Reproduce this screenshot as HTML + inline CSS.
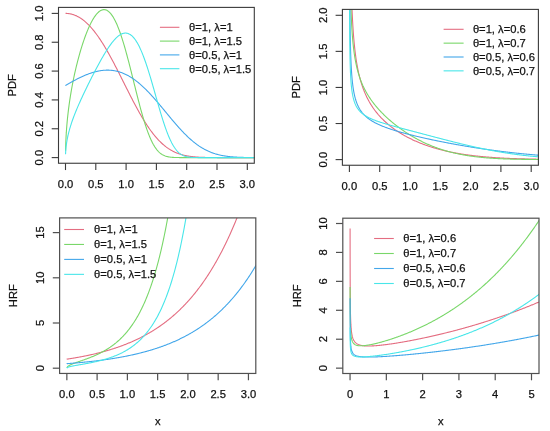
<!DOCTYPE html>
<html><head><meta charset="utf-8"><title>Chen distribution PDF and HRF</title>
<style>
html,body{margin:0;padding:0;background:#fff;}
body{width:550px;height:431px;overflow:hidden;}
svg{display:block;}
text{font-family:"Liberation Sans", "DejaVu Sans", sans-serif;font-size:11.2px;fill:#111;stroke:#111;stroke-width:0.25;}
</style></head><body>
<svg width="550" height="431" viewBox="0 0 550 431">
<rect width="550" height="431" fill="#fff"/>
<clipPath id="c0"><rect x="58.5" y="7.4" width="195.8" height="155.85"/></clipPath>
<g clip-path="url(#c0)" fill="none" stroke-width="1.1" stroke-linejoin="round">
<polyline stroke="#E46D81" points="65.56,13.4 65.57,13.4 65.58,13.4 65.59,13.4 65.6,13.4 65.61,13.4 65.62,13.4 65.63,13.4 65.64,13.4 65.65,13.4 65.66,13.4 65.67,13.4 65.68,13.4 65.69,13.4 65.7,13.4 65.71,13.4 65.72,13.4 65.73,13.4 65.74,13.4 65.75,13.4 65.76,13.4 65.77,13.4 65.78,13.4 65.79,13.4 65.8,13.4 65.81,13.4 65.82,13.4 65.83,13.4 65.84,13.4 65.85,13.4 65.86,13.4 65.88,13.4 65.89,13.4 65.9,13.4 65.91,13.4 65.92,13.4 65.94,13.4 65.95,13.4 65.97,13.4 65.98,13.4 66,13.4 66.01,13.41 66.03,13.41 66.04,13.41 66.06,13.41 66.08,13.41 66.1,13.41 66.12,13.41 66.13,13.41 66.15,13.41 66.18,13.41 66.2,13.41 66.22,13.41 66.24,13.41 66.26,13.41 66.29,13.41 66.31,13.41 66.34,13.41 66.36,13.41 66.39,13.42 66.42,13.42 66.45,13.42 66.48,13.42 66.51,13.42 66.54,13.42 66.57,13.42 66.61,13.42 66.64,13.43 66.68,13.43 66.71,13.43 66.75,13.43 66.79,13.43 66.83,13.44 66.87,13.44 66.92,13.44 66.96,13.44 67.01,13.45 67.06,13.45 67.1,13.45 67.15,13.45 67.21,13.46 67.26,13.46 67.32,13.47 67.37,13.47 67.43,13.47 67.49,13.48 67.55,13.48 67.62,13.49 67.69,13.49 67.75,13.5 67.82,13.51 67.9,13.51 67.97,13.52 68.05,13.53 68.13,13.54 68.21,13.55 68.3,13.56 68.39,13.57 68.48,13.58 68.57,13.59 68.67,13.6 68.77,13.61 68.87,13.63 68.97,13.64 69.08,13.66 69.2,13.67 69.31,13.69 69.43,13.71 69.55,13.73 69.68,13.75 69.81,13.77 69.95,13.8 70.09,13.82 70.23,13.85 70.38,13.88 70.53,13.91 70.69,13.94 70.86,13.98 71.02,14.02 71.2,14.06 71.38,14.1 71.56,14.14 72.1,14.28 72.64,14.44 73.19,14.61 73.73,14.78 74.27,14.98 74.81,15.18 75.35,15.4 75.89,15.63 76.44,15.87 76.98,16.13 77.52,16.4 78.06,16.69 78.6,16.98 79.14,17.29 79.69,17.62 80.23,17.95 80.77,18.3 81.31,18.67 81.85,19.04 82.4,19.43 82.94,19.84 83.48,20.25 84.02,20.69 84.56,21.13 85.1,21.59 85.65,22.06 86.19,22.54 86.73,23.04 87.27,23.55 87.81,24.08 88.35,24.62 88.9,25.17 89.44,25.73 89.98,26.31 90.52,26.9 91.06,27.5 91.6,28.12 92.15,28.75 92.69,29.39 93.23,30.05 93.77,30.72 94.31,31.4 94.86,32.09 95.4,32.79 95.94,33.51 96.48,34.24 97.02,34.98 97.56,35.74 98.11,36.5 98.65,37.28 99.19,38.07 99.73,38.87 100.27,39.68 100.81,40.5 101.36,41.34 101.9,42.18 102.44,43.04 102.98,43.9 103.52,44.78 104.07,45.66 104.61,46.56 105.15,47.46 105.69,48.38 106.23,49.3 106.77,50.23 107.32,51.17 107.86,52.12 108.4,53.08 108.94,54.05 109.48,55.02 110.02,56 110.57,56.99 111.11,57.99 111.65,58.99 112.19,60 112.73,61.02 113.28,62.04 113.82,63.07 114.36,64.1 114.9,65.14 115.44,66.18 115.98,67.23 116.53,68.28 117.07,69.34 117.61,70.4 118.15,71.46 118.69,72.53 119.23,73.6 119.78,74.68 120.32,75.75 120.86,76.83 121.4,77.91 121.94,78.99 122.48,80.07 123.03,81.15 123.57,82.23 124.11,83.32 124.65,84.4 125.19,85.48 125.74,86.56 126.28,87.64 126.82,88.72 127.36,89.8 127.9,90.87 128.44,91.95 128.99,93.02 129.53,94.08 130.07,95.15 130.61,96.21 131.15,97.26 131.69,98.32 132.24,99.36 132.78,100.41 133.32,101.44 133.86,102.48 134.4,103.5 134.95,104.53 135.49,105.54 136.03,106.55 136.57,107.55 137.11,108.54 137.65,109.53 138.2,110.51 138.74,111.48 139.28,112.45 139.82,113.4 140.36,114.35 140.9,115.29 141.45,116.22 141.99,117.14 142.53,118.05 143.07,118.96 143.61,119.85 144.15,120.73 144.7,121.6 145.24,122.46 145.78,123.32 146.32,124.16 146.86,124.99 147.41,125.81 147.95,126.61 148.49,127.41 149.03,128.2 149.57,128.97 150.11,129.74 150.66,130.49 151.2,131.23 151.74,131.95 152.28,132.67 152.82,133.38 153.36,134.07 153.91,134.75 154.45,135.42 154.99,136.07 155.53,136.72 156.07,137.35 156.62,137.97 157.16,138.58 157.7,139.17 158.24,139.76 158.78,140.33 159.32,140.89 159.87,141.43 160.41,141.97 160.95,142.49 161.49,143 162.03,143.5 162.57,143.99 163.12,144.47 163.66,144.93 164.2,145.39 164.74,145.83 165.28,146.26 165.83,146.68 166.37,147.09 166.91,147.48 167.45,147.87 167.99,148.24 168.53,148.61 169.08,148.96 169.62,149.31 170.16,149.64 170.7,149.97 171.24,150.28 171.78,150.58 172.33,150.88 172.87,151.16 173.41,151.44 173.95,151.71 174.49,151.97 175.03,152.22 175.58,152.46 176.12,152.69 176.66,152.91 177.2,153.13 177.74,153.34 178.29,153.54 178.83,153.73 179.37,153.92 179.91,154.1 180.45,154.27 180.99,154.44 181.54,154.59 182.08,154.75 182.62,154.89 183.16,155.03 183.7,155.17 184.24,155.3 184.79,155.42 185.33,155.54 185.87,155.65 186.41,155.76 186.95,155.86 187.5,155.96 188.04,156.05 188.58,156.14 189.12,156.22 189.66,156.3 190.2,156.38 190.75,156.45 191.29,156.52 191.83,156.59 192.37,156.65 192.91,156.71 193.45,156.76 194,156.82 194.54,156.87 195.08,156.91 195.62,156.96 196.16,157 196.71,157.04 197.25,157.08 197.79,157.11 198.33,157.15 198.87,157.18 199.41,157.21 199.96,157.23 200.5,157.26 201.04,157.28 201.58,157.31 202.12,157.33 202.66,157.35 203.21,157.37 203.75,157.38 204.29,157.4 204.83,157.42 205.37,157.43 205.91,157.44 206.46,157.46 207,157.47 207.54,157.48 208.08,157.49 208.62,157.5 209.17,157.51 209.71,157.51 210.25,157.52 210.79,157.53 211.33,157.53 211.87,157.54 212.42,157.54 212.96,157.55 213.5,157.55 214.04,157.56 214.58,157.56 215.12,157.57 215.67,157.57 216.21,157.57 216.75,157.57 217.29,157.58 217.83,157.58 218.38,157.58 218.92,157.58 219.46,157.58 220,157.59 220.54,157.59 221.08,157.59 221.63,157.59 222.17,157.59 222.71,157.59 223.25,157.59 223.79,157.59 224.33,157.59 224.88,157.59 225.42,157.6 225.96,157.6 226.5,157.6 227.04,157.6 227.59,157.6 228.13,157.6 228.67,157.6 229.21,157.6 229.75,157.6 230.29,157.6 230.84,157.6 231.38,157.6 231.92,157.6 232.46,157.6 233,157.6 233.54,157.6 234.09,157.6 234.63,157.6 235.17,157.6 235.71,157.6 236.25,157.6 236.79,157.6 237.34,157.6 237.88,157.6 238.42,157.6 238.96,157.6 239.5,157.6 240.05,157.6 240.59,157.6 241.13,157.6 241.67,157.6 242.21,157.6 242.75,157.6 243.3,157.6 243.84,157.6 244.38,157.6 244.92,157.6 245.46,157.6 246,157.6 246.55,157.6 247.09,157.6 247.63,157.6 248.17,157.6 248.71,157.6 249.26,157.6 249.8,157.6 250.34,157.6 250.88,157.6 251.42,157.6 251.96,157.6 252.51,157.6 253.05,157.6 253.59,157.6 254.13,157.6 254.67,157.6 255.21,157.6 255.76,157.6 256.3,157.6 256.84,157.6 257.38,157.6 257.92,157.6 258.46,157.6 259.01,157.6 259.55,157.6 260.09,157.6 260.63,157.6"/>
<polyline stroke="#79D769" points="65.56,150.76 65.56,150.65 65.56,150.55 65.57,150.44 65.57,150.32 65.57,150.21 65.57,150.1 65.58,149.98 65.58,149.86 65.58,149.74 65.58,149.62 65.59,149.49 65.59,149.37 65.59,149.24 65.59,149.11 65.6,148.98 65.6,148.84 65.6,148.7 65.61,148.57 65.61,148.43 65.61,148.28 65.62,148.14 65.62,147.99 65.62,147.84 65.63,147.69 65.63,147.53 65.64,147.38 65.64,147.22 65.64,147.06 65.65,146.89 65.65,146.73 65.66,146.56 65.66,146.38 65.67,146.21 65.67,146.03 65.68,145.85 65.68,145.67 65.69,145.48 65.7,145.29 65.7,145.1 65.71,144.91 65.72,144.71 65.72,144.51 65.73,144.31 65.74,144.1 65.74,143.89 65.75,143.68 65.76,143.46 65.77,143.24 65.78,143.01 65.78,142.79 65.79,142.56 65.8,142.32 65.81,142.08 65.82,141.84 65.83,141.6 65.84,141.35 65.85,141.1 65.86,140.84 65.88,140.58 65.89,140.31 65.9,140.04 65.91,139.77 65.92,139.49 65.94,139.21 65.95,138.92 65.97,138.63 65.98,138.34 66,138.04 66.01,137.73 66.03,137.42 66.04,137.11 66.06,136.79 66.08,136.47 66.1,136.14 66.12,135.8 66.13,135.46 66.15,135.12 66.18,134.77 66.2,134.41 66.22,134.05 66.24,133.68 66.26,133.31 66.29,132.93 66.31,132.55 66.34,132.16 66.36,131.76 66.39,131.36 66.42,130.95 66.45,130.54 66.48,130.12 66.51,129.69 66.54,129.25 66.57,128.81 66.61,128.36 66.64,127.91 66.68,127.45 66.71,126.98 66.75,126.5 66.79,126.01 66.83,125.52 66.87,125.02 66.92,124.52 66.96,124 67.01,123.48 67.06,122.95 67.1,122.41 67.15,121.86 67.21,121.3 67.26,120.74 67.32,120.16 67.37,119.58 67.43,118.99 67.49,118.39 67.55,117.78 67.62,117.16 67.69,116.53 67.75,115.89 67.82,115.24 67.9,114.58 67.97,113.91 68.05,113.23 68.13,112.54 68.21,111.83 68.3,111.12 68.39,110.4 68.48,109.66 68.57,108.92 68.67,108.16 68.77,107.39 68.87,106.61 68.97,105.81 69.08,105.01 69.2,104.19 69.31,103.36 69.43,102.51 69.55,101.66 69.68,100.79 69.81,99.9 69.95,99.01 70.09,98.09 70.23,97.17 70.38,96.23 70.53,95.27 70.69,94.31 70.86,93.32 71.02,92.32 71.2,91.31 71.38,90.28 71.56,89.23 72.1,86.25 72.64,83.4 73.19,80.65 73.73,78 74.27,75.45 74.81,72.97 75.35,70.58 75.89,68.25 76.44,65.99 76.98,63.79 77.52,61.66 78.06,59.57 78.6,57.55 79.14,55.57 79.69,53.64 80.23,51.76 80.77,49.93 81.31,48.14 81.85,46.39 82.4,44.68 82.94,43.02 83.48,41.4 84.02,39.82 84.56,38.28 85.1,36.77 85.65,35.31 86.19,33.88 86.73,32.5 87.27,31.15 87.81,29.84 88.35,28.57 88.9,27.33 89.44,26.14 89.98,24.98 90.52,23.87 91.06,22.79 91.6,21.75 92.15,20.75 92.69,19.79 93.23,18.87 93.77,17.99 94.31,17.16 94.86,16.36 95.4,15.61 95.94,14.9 96.48,14.23 97.02,13.6 97.56,13.02 98.11,12.48 98.65,11.99 99.19,11.54 99.73,11.14 100.27,10.79 100.81,10.48 101.36,10.22 101.9,10 102.44,9.84 102.98,9.72 103.52,9.66 104.07,9.64 104.61,9.67 105.15,9.76 105.69,9.89 106.23,10.07 106.77,10.31 107.32,10.6 107.86,10.94 108.4,11.34 108.94,11.78 109.48,12.28 110.02,12.83 110.57,13.44 111.11,14.1 111.65,14.81 112.19,15.58 112.73,16.39 113.28,17.27 113.82,18.19 114.36,19.17 114.9,20.2 115.44,21.28 115.98,22.41 116.53,23.6 117.07,24.83 117.61,26.12 118.15,27.45 118.69,28.84 119.23,30.27 119.78,31.75 120.32,33.28 120.86,34.85 121.4,36.46 121.94,38.12 122.48,39.82 123.03,41.56 123.57,43.34 124.11,45.16 124.65,47.01 125.19,48.9 125.74,50.82 126.28,52.78 126.82,54.76 127.36,56.77 127.9,58.81 128.44,60.87 128.99,62.95 129.53,65.05 130.07,67.17 130.61,69.31 131.15,71.46 131.69,73.62 132.24,75.79 132.78,77.97 133.32,80.15 133.86,82.33 134.4,84.51 134.95,86.69 135.49,88.86 136.03,91.03 136.57,93.18 137.11,95.33 137.65,97.46 138.2,99.57 138.74,101.66 139.28,103.73 139.82,105.78 140.36,107.8 140.9,109.79 141.45,111.76 141.99,113.69 142.53,115.59 143.07,117.45 143.61,119.27 144.15,121.06 144.7,122.8 145.24,124.5 145.78,126.16 146.32,127.78 146.86,129.35 147.41,130.87 147.95,132.35 148.49,133.78 149.03,135.16 149.57,136.49 150.11,137.77 150.66,139.01 151.2,140.19 151.74,141.33 152.28,142.41 152.82,143.45 153.36,144.44 153.91,145.38 154.45,146.27 154.99,147.12 155.53,147.92 156.07,148.68 156.62,149.4 157.16,150.07 157.7,150.7 158.24,151.29 158.78,151.84 159.32,152.36 159.87,152.84 160.41,153.29 160.95,153.7 161.49,154.08 162.03,154.43 162.57,154.76 163.12,155.05 163.66,155.33 164.2,155.57 164.74,155.8 165.28,156.01 165.83,156.19 166.37,156.36 166.91,156.51 167.45,156.64 167.99,156.77 168.53,156.87 169.08,156.97 169.62,157.06 170.16,157.13 170.7,157.2 171.24,157.25 171.78,157.31 172.33,157.35 172.87,157.39 173.41,157.42 173.95,157.45 174.49,157.47 175.03,157.5 175.58,157.51 176.12,157.53 176.66,157.54 177.2,157.55 177.74,157.56 178.29,157.57 178.83,157.57 179.37,157.58 179.91,157.58 180.45,157.59 180.99,157.59 181.54,157.59 182.08,157.59 182.62,157.59 183.16,157.6 183.7,157.6 184.24,157.6 184.79,157.6 185.33,157.6 185.87,157.6 186.41,157.6 186.95,157.6 187.5,157.6 188.04,157.6 188.58,157.6 189.12,157.6 189.66,157.6 190.2,157.6 190.75,157.6 191.29,157.6 191.83,157.6 192.37,157.6 192.91,157.6 193.45,157.6 194,157.6 194.54,157.6 195.08,157.6 195.62,157.6 196.16,157.6 196.71,157.6 197.25,157.6 197.79,157.6 198.33,157.6 198.87,157.6 199.41,157.6 199.96,157.6 200.5,157.6 201.04,157.6 201.58,157.6 202.12,157.6 202.66,157.6 203.21,157.6 203.75,157.6 204.29,157.6 204.83,157.6 205.37,157.6 205.91,157.6 206.46,157.6 207,157.6 207.54,157.6 208.08,157.6 208.62,157.6 209.17,157.6 209.71,157.6 210.25,157.6 210.79,157.6 211.33,157.6 211.87,157.6 212.42,157.6 212.96,157.6 213.5,157.6 214.04,157.6 214.58,157.6 215.12,157.6 215.67,157.6 216.21,157.6 216.75,157.6 217.29,157.6 217.83,157.6 218.38,157.6 218.92,157.6 219.46,157.6 220,157.6 220.54,157.6 221.08,157.6 221.63,157.6 222.17,157.6 222.71,157.6 223.25,157.6 223.79,157.6 224.33,157.6 224.88,157.6 225.42,157.6 225.96,157.6 226.5,157.6 227.04,157.6 227.59,157.6 228.13,157.6 228.67,157.6 229.21,157.6 229.75,157.6 230.29,157.6 230.84,157.6 231.38,157.6 231.92,157.6 232.46,157.6 233,157.6 233.54,157.6 234.09,157.6 234.63,157.6 235.17,157.6 235.71,157.6 236.25,157.6 236.79,157.6 237.34,157.6 237.88,157.6 238.42,157.6 238.96,157.6 239.5,157.6 240.05,157.6 240.59,157.6 241.13,157.6 241.67,157.6 242.21,157.6 242.75,157.6 243.3,157.6 243.84,157.6 244.38,157.6 244.92,157.6 245.46,157.6 246,157.6 246.55,157.6 247.09,157.6 247.63,157.6 248.17,157.6 248.71,157.6 249.26,157.6 249.8,157.6 250.34,157.6 250.88,157.6 251.42,157.6 251.96,157.6 252.51,157.6 253.05,157.6 253.59,157.6 254.13,157.6 254.67,157.6 255.21,157.6 255.76,157.6 256.3,157.6 256.84,157.6 257.38,157.6 257.92,157.6 258.46,157.6 259.01,157.6 259.55,157.6 260.09,157.6 260.63,157.6"/>
<polyline stroke="#43A7EA" points="65.56,85.46 65.57,85.46 65.58,85.46 65.58,85.45 65.59,85.45 65.59,85.44 65.6,85.44 65.61,85.44 65.61,85.43 65.62,85.43 65.63,85.42 65.64,85.42 65.64,85.41 65.65,85.41 65.66,85.41 65.66,85.4 65.67,85.4 65.68,85.39 65.69,85.39 65.7,85.38 65.71,85.38 65.72,85.37 65.73,85.36 65.74,85.36 65.75,85.35 65.76,85.35 65.77,85.34 65.78,85.34 65.78,85.33 65.79,85.33 65.8,85.32 65.81,85.31 65.82,85.31 65.83,85.3 65.84,85.3 65.85,85.29 65.86,85.28 65.88,85.28 65.89,85.27 65.9,85.26 65.91,85.26 65.92,85.25 65.94,85.24 65.95,85.23 65.97,85.22 65.98,85.21 66,85.21 66.01,85.2 66.03,85.19 66.04,85.18 66.06,85.17 66.08,85.16 66.1,85.15 66.12,85.13 66.13,85.12 66.15,85.11 66.18,85.1 66.2,85.09 66.22,85.07 66.24,85.06 66.26,85.05 66.29,85.03 66.31,85.02 66.34,85 66.36,84.99 66.39,84.97 66.42,84.95 66.45,84.94 66.48,84.92 66.51,84.9 66.54,84.88 66.57,84.86 66.61,84.84 66.64,84.82 66.68,84.8 66.71,84.78 66.75,84.76 66.79,84.74 66.83,84.71 66.87,84.69 66.92,84.66 66.96,84.64 67.01,84.61 67.06,84.58 67.1,84.55 67.15,84.52 67.21,84.49 67.26,84.46 67.32,84.43 67.37,84.4 67.43,84.36 67.49,84.33 67.55,84.29 67.62,84.25 67.69,84.21 67.75,84.17 67.82,84.13 67.9,84.09 67.97,84.04 68.05,84 68.13,83.95 68.21,83.91 68.3,83.86 68.39,83.8 68.48,83.75 68.57,83.7 68.67,83.64 68.77,83.59 68.87,83.53 68.97,83.47 69.08,83.4 69.2,83.34 69.31,83.27 69.43,83.2 69.55,83.13 69.68,83.06 69.81,82.98 69.95,82.91 70.09,82.83 70.23,82.75 70.38,82.66 70.53,82.58 70.69,82.49 70.86,82.39 71.02,82.3 71.2,82.2 71.38,82.1 71.56,82 72.1,81.7 72.64,81.4 73.19,81.1 73.73,80.81 74.27,80.52 74.81,80.23 75.35,79.94 75.89,79.65 76.44,79.37 76.98,79.09 77.52,78.82 78.06,78.54 78.6,78.27 79.14,78 79.69,77.74 80.23,77.48 80.77,77.22 81.31,76.97 81.85,76.72 82.4,76.47 82.94,76.22 83.48,75.98 84.02,75.75 84.56,75.51 85.1,75.28 85.65,75.06 86.19,74.84 86.73,74.62 87.27,74.41 87.81,74.2 88.35,73.99 88.9,73.79 89.44,73.6 89.98,73.4 90.52,73.22 91.06,73.04 91.6,72.86 92.15,72.69 92.69,72.52 93.23,72.36 93.77,72.2 94.31,72.05 94.86,71.9 95.4,71.76 95.94,71.62 96.48,71.49 97.02,71.37 97.56,71.25 98.11,71.13 98.65,71.02 99.19,70.92 99.73,70.83 100.27,70.73 100.81,70.65 101.36,70.57 101.9,70.5 102.44,70.43 102.98,70.38 103.52,70.32 104.07,70.28 104.61,70.24 105.15,70.2 105.69,70.18 106.23,70.16 106.77,70.14 107.32,70.14 107.86,70.14 108.4,70.15 108.94,70.16 109.48,70.19 110.02,70.21 110.57,70.25 111.11,70.3 111.65,70.35 112.19,70.41 112.73,70.47 113.28,70.55 113.82,70.63 114.36,70.72 114.9,70.81 115.44,70.92 115.98,71.03 116.53,71.15 117.07,71.28 117.61,71.42 118.15,71.56 118.69,71.71 119.23,71.87 119.78,72.04 120.32,72.21 120.86,72.4 121.4,72.59 121.94,72.79 122.48,73 123.03,73.21 123.57,73.44 124.11,73.67 124.65,73.91 125.19,74.16 125.74,74.42 126.28,74.68 126.82,74.95 127.36,75.24 127.9,75.53 128.44,75.82 128.99,76.13 129.53,76.44 130.07,76.77 130.61,77.1 131.15,77.43 131.69,77.78 132.24,78.13 132.78,78.5 133.32,78.87 133.86,79.24 134.4,79.63 134.95,80.02 135.49,80.42 136.03,80.83 136.57,81.25 137.11,81.67 137.65,82.1 138.2,82.54 138.74,82.99 139.28,83.44 139.82,83.9 140.36,84.37 140.9,84.84 141.45,85.33 141.99,85.81 142.53,86.31 143.07,86.81 143.61,87.32 144.15,87.84 144.7,88.36 145.24,88.88 145.78,89.42 146.32,89.96 146.86,90.5 147.41,91.06 147.95,91.61 148.49,92.17 149.03,92.74 149.57,93.32 150.11,93.89 150.66,94.48 151.2,95.07 151.74,95.66 152.28,96.26 152.82,96.86 153.36,97.46 153.91,98.08 154.45,98.69 154.99,99.31 155.53,99.93 156.07,100.55 156.62,101.18 157.16,101.81 157.7,102.45 158.24,103.08 158.78,103.72 159.32,104.37 159.87,105.01 160.41,105.66 160.95,106.31 161.49,106.96 162.03,107.61 162.57,108.26 163.12,108.91 163.66,109.57 164.2,110.22 164.74,110.88 165.28,111.54 165.83,112.19 166.37,112.85 166.91,113.51 167.45,114.16 167.99,114.82 168.53,115.47 169.08,116.13 169.62,116.78 170.16,117.43 170.7,118.08 171.24,118.73 171.78,119.38 172.33,120.02 172.87,120.66 173.41,121.3 173.95,121.94 174.49,122.57 175.03,123.2 175.58,123.83 176.12,124.46 176.66,125.08 177.2,125.7 177.74,126.31 178.29,126.92 178.83,127.52 179.37,128.13 179.91,128.72 180.45,129.31 180.99,129.9 181.54,130.48 182.08,131.06 182.62,131.63 183.16,132.2 183.7,132.76 184.24,133.32 184.79,133.87 185.33,134.41 185.87,134.95 186.41,135.48 186.95,136.01 187.5,136.53 188.04,137.04 188.58,137.55 189.12,138.05 189.66,138.55 190.2,139.03 190.75,139.51 191.29,139.99 191.83,140.45 192.37,140.91 192.91,141.36 193.45,141.81 194,142.25 194.54,142.68 195.08,143.1 195.62,143.52 196.16,143.93 196.71,144.33 197.25,144.73 197.79,145.11 198.33,145.49 198.87,145.87 199.41,146.23 199.96,146.59 200.5,146.94 201.04,147.28 201.58,147.62 202.12,147.95 202.66,148.27 203.21,148.58 203.75,148.89 204.29,149.19 204.83,149.48 205.37,149.77 205.91,150.05 206.46,150.32 207,150.58 207.54,150.84 208.08,151.09 208.62,151.34 209.17,151.57 209.71,151.8 210.25,152.03 210.79,152.25 211.33,152.46 211.87,152.67 212.42,152.87 212.96,153.06 213.5,153.25 214.04,153.43 214.58,153.6 215.12,153.78 215.67,153.94 216.21,154.1 216.75,154.25 217.29,154.4 217.83,154.55 218.38,154.69 218.92,154.82 219.46,154.95 220,155.07 220.54,155.19 221.08,155.31 221.63,155.42 222.17,155.53 222.71,155.63 223.25,155.73 223.79,155.82 224.33,155.91 224.88,156 225.42,156.08 225.96,156.16 226.5,156.24 227.04,156.31 227.59,156.38 228.13,156.45 228.67,156.51 229.21,156.57 229.75,156.63 230.29,156.68 230.84,156.74 231.38,156.79 231.92,156.83 232.46,156.88 233,156.92 233.54,156.96 234.09,157 234.63,157.04 235.17,157.07 235.71,157.11 236.25,157.14 236.79,157.17 237.34,157.2 237.88,157.22 238.42,157.25 238.96,157.27 239.5,157.29 240.05,157.31 240.59,157.33 241.13,157.35 241.67,157.37 242.21,157.39 242.75,157.4 243.3,157.42 243.84,157.43 244.38,157.44 244.92,157.45 245.46,157.46 246,157.47 246.55,157.48 247.09,157.49 247.63,157.5 248.17,157.51 248.71,157.52 249.26,157.52 249.8,157.53 250.34,157.53 250.88,157.54 251.42,157.55 251.96,157.55 252.51,157.55 253.05,157.56 253.59,157.56 254.13,157.56 254.67,157.57 255.21,157.57 255.76,157.57 256.3,157.58 256.84,157.58 257.38,157.58 257.92,157.58 258.46,157.58 259.01,157.59 259.55,157.59 260.09,157.59 260.63,157.59"/>
<polyline stroke="#48E6E9" points="65.56,154.18 65.56,154.13 65.56,154.07 65.57,154.02 65.57,153.96 65.57,153.91 65.57,153.85 65.58,153.79 65.58,153.73 65.58,153.67 65.58,153.61 65.59,153.55 65.59,153.48 65.59,153.42 65.59,153.35 65.6,153.29 65.6,153.22 65.6,153.15 65.61,153.08 65.61,153.01 65.61,152.94 65.62,152.87 65.62,152.79 65.62,152.72 65.63,152.64 65.63,152.57 65.64,152.49 65.64,152.41 65.64,152.33 65.65,152.25 65.65,152.16 65.66,152.08 65.66,151.99 65.67,151.9 65.67,151.82 65.68,151.73 65.68,151.63 65.69,151.54 65.7,151.45 65.7,151.35 65.71,151.25 65.72,151.15 65.72,151.05 65.73,150.95 65.74,150.85 65.74,150.74 65.75,150.64 65.76,150.53 65.77,150.42 65.78,150.31 65.78,150.19 65.79,150.08 65.8,149.96 65.81,149.84 65.82,149.72 65.83,149.6 65.84,149.47 65.85,149.35 65.86,149.22 65.88,149.09 65.89,148.95 65.9,148.82 65.91,148.68 65.92,148.54 65.94,148.4 65.95,148.26 65.97,148.11 65.98,147.97 66,147.81 66.01,147.66 66.03,147.51 66.04,147.35 66.06,147.19 66.08,147.03 66.1,146.86 66.12,146.7 66.13,146.53 66.15,146.35 66.18,146.18 66.2,146 66.22,145.82 66.24,145.63 66.26,145.45 66.29,145.26 66.31,145.07 66.34,144.87 66.36,144.67 66.39,144.47 66.42,144.26 66.45,144.06 66.48,143.84 66.51,143.63 66.54,143.41 66.57,143.19 66.61,142.96 66.64,142.73 66.68,142.5 66.71,142.27 66.75,142.03 66.79,141.78 66.83,141.54 66.87,141.28 66.92,141.03 66.96,140.77 67.01,140.51 67.06,140.24 67.1,139.97 67.15,139.69 67.21,139.41 67.26,139.12 67.32,138.83 67.37,138.54 67.43,138.24 67.49,137.93 67.55,137.63 67.62,137.31 67.69,136.99 67.75,136.67 67.82,136.34 67.9,136 67.97,135.66 68.05,135.32 68.13,134.97 68.21,134.61 68.3,134.24 68.39,133.88 68.48,133.5 68.57,133.12 68.67,132.73 68.77,132.34 68.87,131.94 68.97,131.53 69.08,131.11 69.2,130.69 69.31,130.26 69.43,129.83 69.55,129.38 69.68,128.93 69.81,128.47 69.95,128.01 70.09,127.53 70.23,127.05 70.38,126.56 70.53,126.06 70.69,125.55 70.86,125.03 71.02,124.5 71.2,123.97 71.38,123.42 71.56,122.86 72.1,121.27 72.64,119.72 73.19,118.23 73.73,116.77 74.27,115.35 74.81,113.95 75.35,112.59 75.89,111.25 76.44,109.93 76.98,108.64 77.52,107.36 78.06,106.1 78.6,104.86 79.14,103.63 79.69,102.41 80.23,101.2 80.77,100.01 81.31,98.82 81.85,97.65 82.4,96.48 82.94,95.32 83.48,94.17 84.02,93.03 84.56,91.9 85.1,90.77 85.65,89.64 86.19,88.52 86.73,87.41 87.27,86.3 87.81,85.2 88.35,84.1 88.9,83.01 89.44,81.92 89.98,80.84 90.52,79.76 91.06,78.69 91.6,77.62 92.15,76.55 92.69,75.49 93.23,74.44 93.77,73.39 94.31,72.34 94.86,71.3 95.4,70.27 95.94,69.24 96.48,68.22 97.02,67.2 97.56,66.19 98.11,65.18 98.65,64.18 99.19,63.19 99.73,62.2 100.27,61.23 100.81,60.26 101.36,59.29 101.9,58.34 102.44,57.4 102.98,56.46 103.52,55.54 104.07,54.62 104.61,53.72 105.15,52.82 105.69,51.94 106.23,51.07 106.77,50.22 107.32,49.37 107.86,48.54 108.4,47.73 108.94,46.92 109.48,46.14 110.02,45.37 110.57,44.61 111.11,43.88 111.65,43.16 112.19,42.46 112.73,41.78 113.28,41.12 113.82,40.48 114.36,39.86 114.9,39.26 115.44,38.68 115.98,38.13 116.53,37.61 117.07,37.1 117.61,36.63 118.15,36.18 118.69,35.75 119.23,35.36 119.78,34.99 120.32,34.66 120.86,34.35 121.4,34.07 121.94,33.83 122.48,33.62 123.03,33.44 123.57,33.29 124.11,33.18 124.65,33.11 125.19,33.07 125.74,33.07 126.28,33.11 126.82,33.18 127.36,33.3 127.9,33.45 128.44,33.64 128.99,33.88 129.53,34.15 130.07,34.47 130.61,34.83 131.15,35.23 131.69,35.68 132.24,36.17 132.78,36.7 133.32,37.28 133.86,37.91 134.4,38.57 134.95,39.29 135.49,40.05 136.03,40.85 136.57,41.7 137.11,42.59 137.65,43.53 138.2,44.52 138.74,45.55 139.28,46.62 139.82,47.74 140.36,48.9 140.9,50.11 141.45,51.36 141.99,52.65 142.53,53.98 143.07,55.35 143.61,56.77 144.15,58.22 144.7,59.71 145.24,61.23 145.78,62.79 146.32,64.39 146.86,66.01 147.41,67.67 147.95,69.36 148.49,71.08 149.03,72.82 149.57,74.59 150.11,76.38 150.66,78.2 151.2,80.03 151.74,81.88 152.28,83.75 152.82,85.63 153.36,87.52 153.91,89.42 154.45,91.32 154.99,93.23 155.53,95.14 156.07,97.06 156.62,98.97 157.16,100.87 157.7,102.77 158.24,104.66 158.78,106.54 159.32,108.4 159.87,110.24 160.41,112.07 160.95,113.88 161.49,115.66 162.03,117.42 162.57,119.16 163.12,120.86 163.66,122.53 164.2,124.17 164.74,125.78 165.28,127.34 165.83,128.88 166.37,130.37 166.91,131.82 167.45,133.23 167.99,134.6 168.53,135.93 169.08,137.21 169.62,138.44 170.16,139.64 170.7,140.78 171.24,141.88 171.78,142.93 172.33,143.94 172.87,144.9 173.41,145.82 173.95,146.69 174.49,147.52 175.03,148.3 175.58,149.04 176.12,149.74 176.66,150.4 177.2,151.01 177.74,151.59 178.29,152.13 178.83,152.63 179.37,153.1 179.91,153.53 180.45,153.93 180.99,154.3 181.54,154.64 182.08,154.96 182.62,155.24 183.16,155.5 183.7,155.74 184.24,155.96 184.79,156.15 185.33,156.33 185.87,156.49 186.41,156.63 186.95,156.75 187.5,156.87 188.04,156.97 188.58,157.05 189.12,157.13 189.66,157.2 190.2,157.26 190.75,157.31 191.29,157.36 191.83,157.39 192.37,157.43 192.91,157.46 193.45,157.48 194,157.5 194.54,157.52 195.08,157.53 195.62,157.55 196.16,157.56 196.71,157.56 197.25,157.57 197.79,157.58 198.33,157.58 198.87,157.59 199.41,157.59 199.96,157.59 200.5,157.59 201.04,157.59 201.58,157.6 202.12,157.6 202.66,157.6 203.21,157.6 203.75,157.6 204.29,157.6 204.83,157.6 205.37,157.6 205.91,157.6 206.46,157.6 207,157.6 207.54,157.6 208.08,157.6 208.62,157.6 209.17,157.6 209.71,157.6 210.25,157.6 210.79,157.6 211.33,157.6 211.87,157.6 212.42,157.6 212.96,157.6 213.5,157.6 214.04,157.6 214.58,157.6 215.12,157.6 215.67,157.6 216.21,157.6 216.75,157.6 217.29,157.6 217.83,157.6 218.38,157.6 218.92,157.6 219.46,157.6 220,157.6 220.54,157.6 221.08,157.6 221.63,157.6 222.17,157.6 222.71,157.6 223.25,157.6 223.79,157.6 224.33,157.6 224.88,157.6 225.42,157.6 225.96,157.6 226.5,157.6 227.04,157.6 227.59,157.6 228.13,157.6 228.67,157.6 229.21,157.6 229.75,157.6 230.29,157.6 230.84,157.6 231.38,157.6 231.92,157.6 232.46,157.6 233,157.6 233.54,157.6 234.09,157.6 234.63,157.6 235.17,157.6 235.71,157.6 236.25,157.6 236.79,157.6 237.34,157.6 237.88,157.6 238.42,157.6 238.96,157.6 239.5,157.6 240.05,157.6 240.59,157.6 241.13,157.6 241.67,157.6 242.21,157.6 242.75,157.6 243.3,157.6 243.84,157.6 244.38,157.6 244.92,157.6 245.46,157.6 246,157.6 246.55,157.6 247.09,157.6 247.63,157.6 248.17,157.6 248.71,157.6 249.26,157.6 249.8,157.6 250.34,157.6 250.88,157.6 251.42,157.6 251.96,157.6 252.51,157.6 253.05,157.6 253.59,157.6 254.13,157.6 254.67,157.6 255.21,157.6 255.76,157.6 256.3,157.6 256.84,157.6 257.38,157.6 257.92,157.6 258.46,157.6 259.01,157.6 259.55,157.6 260.09,157.6 260.63,157.6"/>
</g>
<rect x="58.5" y="7.4" width="195.8" height="155.85" fill="none" stroke="#3a3a3a" stroke-width="1.1"/>
<line x1="65.5" y1="163.25" x2="65.5" y2="170.05" stroke="#3a3a3a" stroke-width="1.1"/>
<text x="65.5" y="187.55" text-anchor="middle">0.0</text>
<line x1="95.8" y1="163.25" x2="95.8" y2="170.05" stroke="#3a3a3a" stroke-width="1.1"/>
<text x="95.8" y="187.55" text-anchor="middle">0.5</text>
<line x1="126.1" y1="163.25" x2="126.1" y2="170.05" stroke="#3a3a3a" stroke-width="1.1"/>
<text x="126.1" y="187.55" text-anchor="middle">1.0</text>
<line x1="156.4" y1="163.25" x2="156.4" y2="170.05" stroke="#3a3a3a" stroke-width="1.1"/>
<text x="156.4" y="187.55" text-anchor="middle">1.5</text>
<line x1="186.7" y1="163.25" x2="186.7" y2="170.05" stroke="#3a3a3a" stroke-width="1.1"/>
<text x="186.7" y="187.55" text-anchor="middle">2.0</text>
<line x1="217" y1="163.25" x2="217" y2="170.05" stroke="#3a3a3a" stroke-width="1.1"/>
<text x="217" y="187.55" text-anchor="middle">2.5</text>
<line x1="247.3" y1="163.25" x2="247.3" y2="170.05" stroke="#3a3a3a" stroke-width="1.1"/>
<text x="247.3" y="187.55" text-anchor="middle">3.0</text>
<line x1="51.7" y1="157.6" x2="58.5" y2="157.6" stroke="#3a3a3a" stroke-width="1.1"/>
<text transform="translate(42.8,157.6) rotate(-90)" x="0" y="0" text-anchor="middle">0.0</text>
<line x1="51.7" y1="128.76" x2="58.5" y2="128.76" stroke="#3a3a3a" stroke-width="1.1"/>
<text transform="translate(42.8,128.76) rotate(-90)" x="0" y="0" text-anchor="middle">0.2</text>
<line x1="51.7" y1="99.92" x2="58.5" y2="99.92" stroke="#3a3a3a" stroke-width="1.1"/>
<text transform="translate(42.8,99.92) rotate(-90)" x="0" y="0" text-anchor="middle">0.4</text>
<line x1="51.7" y1="71.08" x2="58.5" y2="71.08" stroke="#3a3a3a" stroke-width="1.1"/>
<text transform="translate(42.8,71.08) rotate(-90)" x="0" y="0" text-anchor="middle">0.6</text>
<line x1="51.7" y1="42.24" x2="58.5" y2="42.24" stroke="#3a3a3a" stroke-width="1.1"/>
<text transform="translate(42.8,42.24) rotate(-90)" x="0" y="0" text-anchor="middle">0.8</text>
<line x1="51.7" y1="13.4" x2="58.5" y2="13.4" stroke="#3a3a3a" stroke-width="1.1"/>
<text transform="translate(42.8,13.4) rotate(-90)" x="0" y="0" text-anchor="middle">1.0</text>
<text transform="translate(16.2,85.33) rotate(-90)" text-anchor="middle">PDF</text>
<line x1="159.9" y1="27.3" x2="179.4" y2="27.3" stroke="#E46D81" stroke-width="1.1"/>
<text x="189.1" y="31.1">&#952;=1, &#955;=1</text>
<line x1="159.9" y1="41.1" x2="179.4" y2="41.1" stroke="#79D769" stroke-width="1.1"/>
<text x="189.1" y="44.9">&#952;=1, &#955;=1.5</text>
<line x1="159.9" y1="54.9" x2="179.4" y2="54.9" stroke="#43A7EA" stroke-width="1.1"/>
<text x="189.1" y="58.7">&#952;=0.5, &#955;=1</text>
<line x1="159.9" y1="68.7" x2="179.4" y2="68.7" stroke="#48E6E9" stroke-width="1.1"/>
<text x="189.1" y="72.5">&#952;=0.5, &#955;=1.5</text>
<clipPath id="c1"><rect x="342.4" y="9.4" width="196" height="155.85"/></clipPath>
<g clip-path="url(#c1)" fill="none" stroke-width="1.1" stroke-linejoin="round">
<polyline stroke="#E46D81" points="351.72,1.74 351.8,3.74 351.87,5.72 351.95,7.68 352.03,9.61 352.11,11.53 352.2,13.42 352.29,15.29 352.38,17.14 352.47,18.96 352.57,20.77 352.67,22.56 352.77,24.33 352.87,26.07 352.98,27.8 353.1,29.51 353.21,31.21 353.33,32.88 353.45,34.53 353.58,36.17 353.71,37.79 353.85,39.39 353.99,40.98 354.13,42.55 354.28,44.1 354.43,45.64 354.59,47.16 354.76,48.66 354.92,50.15 355.1,51.63 355.28,53.09 355.46,54.53 356,58.47 356.54,62 357.09,65.19 357.63,68.11 358.17,70.79 358.71,73.27 359.25,75.57 359.79,77.72 360.34,79.73 360.88,81.62 361.42,83.41 361.96,85.09 362.5,86.69 363.04,88.21 363.59,89.66 364.13,91.05 364.67,92.37 365.21,93.65 365.75,94.87 366.3,96.04 366.84,97.17 367.38,98.26 367.92,99.31 368.46,100.33 369,101.32 369.55,102.27 370.09,103.2 370.63,104.09 371.17,104.97 371.71,105.82 372.25,106.64 372.8,107.45 373.34,108.23 373.88,108.99 374.42,109.74 374.96,110.47 375.5,111.18 376.05,111.87 376.59,112.55 377.13,113.22 377.67,113.87 378.21,114.51 378.76,115.13 379.3,115.75 379.84,116.35 380.38,116.93 380.92,117.51 381.46,118.08 382.01,118.64 382.55,119.18 383.09,119.72 383.63,120.25 384.17,120.77 384.71,121.28 385.26,121.78 385.8,122.27 386.34,122.76 386.88,123.24 387.42,123.71 387.97,124.17 388.51,124.63 389.05,125.07 389.59,125.52 390.13,125.95 390.67,126.38 391.22,126.81 391.76,127.22 392.3,127.63 392.84,128.04 393.38,128.44 393.92,128.83 394.47,129.22 395.01,129.61 395.55,129.98 396.09,130.36 396.63,130.73 397.18,131.09 397.72,131.45 398.26,131.8 398.8,132.15 399.34,132.5 399.88,132.84 400.43,133.18 400.97,133.51 401.51,133.84 402.05,134.16 402.59,134.48 403.13,134.8 403.68,135.11 404.22,135.42 404.76,135.72 405.3,136.03 405.84,136.32 406.38,136.62 406.93,136.91 407.47,137.19 408.01,137.48 408.55,137.76 409.09,138.04 409.64,138.31 410.18,138.58 410.72,138.85 411.26,139.11 411.8,139.37 412.34,139.63 412.89,139.89 413.43,140.14 413.97,140.39 414.51,140.63 415.05,140.88 415.59,141.12 416.14,141.36 416.68,141.59 417.22,141.83 417.76,142.06 418.3,142.28 418.85,142.51 419.39,142.73 419.93,142.95 420.47,143.17 421.01,143.38 421.55,143.59 422.1,143.8 422.64,144.01 423.18,144.22 423.72,144.42 424.26,144.62 424.8,144.82 425.35,145.01 425.89,145.21 426.43,145.4 426.97,145.59 427.51,145.77 428.05,145.96 428.6,146.14 429.14,146.32 429.68,146.5 430.22,146.68 430.76,146.85 431.31,147.03 431.85,147.2 432.39,147.37 432.93,147.53 433.47,147.7 434.01,147.86 434.56,148.02 435.1,148.18 435.64,148.34 436.18,148.49 436.72,148.65 437.26,148.8 437.81,148.95 438.35,149.1 438.89,149.24 439.43,149.39 439.97,149.53 440.52,149.67 441.06,149.81 441.6,149.95 442.14,150.09 442.68,150.22 443.22,150.36 443.77,150.49 444.31,150.62 444.85,150.75 445.39,150.87 445.93,151 446.47,151.12 447.02,151.24 447.56,151.37 448.1,151.48 448.64,151.6 449.18,151.72 449.73,151.83 450.27,151.95 450.81,152.06 451.35,152.17 451.89,152.28 452.43,152.39 452.98,152.5 453.52,152.6 454.06,152.71 454.6,152.81 455.14,152.91 455.68,153.01 456.23,153.11 456.77,153.21 457.31,153.31 457.85,153.4 458.39,153.49 458.93,153.59 459.48,153.68 460.02,153.77 460.56,153.86 461.1,153.95 461.64,154.04 462.19,154.12 462.73,154.21 463.27,154.29 463.81,154.37 464.35,154.45 464.89,154.53 465.44,154.61 465.98,154.69 466.52,154.77 467.06,154.85 467.6,154.92 468.14,155 468.69,155.07 469.23,155.14 469.77,155.21 470.31,155.28 470.85,155.35 471.4,155.42 471.94,155.49 472.48,155.56 473.02,155.62 473.56,155.69 474.1,155.75 474.65,155.81 475.19,155.88 475.73,155.94 476.27,156 476.81,156.06 477.35,156.12 477.9,156.17 478.44,156.23 478.98,156.29 479.52,156.34 480.06,156.4 480.61,156.45 481.15,156.51 481.69,156.56 482.23,156.61 482.77,156.66 483.31,156.71 483.86,156.76 484.4,156.81 484.94,156.86 485.48,156.9 486.02,156.95 486.56,157 487.11,157.04 487.65,157.09 488.19,157.13 488.73,157.17 489.27,157.22 489.81,157.26 490.36,157.3 490.9,157.34 491.44,157.38 491.98,157.42 492.52,157.46 493.07,157.5 493.61,157.53 494.15,157.57 494.69,157.61 495.23,157.64 495.77,157.68 496.32,157.71 496.86,157.75 497.4,157.78 497.94,157.82 498.48,157.85 499.02,157.88 499.57,157.91 500.11,157.94 500.65,157.97 501.19,158 501.73,158.03 502.28,158.06 502.82,158.09 503.36,158.12 503.9,158.15 504.44,158.18 504.98,158.2 505.53,158.23 506.07,158.25 506.61,158.28 507.15,158.31 507.69,158.33 508.23,158.35 508.78,158.38 509.32,158.4 509.86,158.43 510.4,158.45 510.94,158.47 511.49,158.49 512.03,158.51 512.57,158.54 513.11,158.56 513.65,158.58 514.19,158.6 514.74,158.62 515.28,158.64 515.82,158.66 516.36,158.67 516.9,158.69 517.44,158.71 517.99,158.73 518.53,158.75 519.07,158.76 519.61,158.78 520.15,158.8 520.69,158.81 521.24,158.83 521.78,158.85 522.32,158.86 522.86,158.88 523.4,158.89 523.95,158.91 524.49,158.92 525.03,158.93 525.57,158.95 526.11,158.96 526.65,158.98 527.2,158.99 527.74,159 528.28,159.01 528.82,159.03 529.36,159.04 529.9,159.05 530.45,159.06 530.99,159.07 531.53,159.08 532.07,159.1 532.61,159.11 533.16,159.12 533.7,159.13 534.24,159.14 534.78,159.15 535.32,159.16 535.86,159.17 536.41,159.18 536.95,159.19 537.49,159.2 538.03,159.2 538.57,159.21 539.11,159.22 539.66,159.23 540.2,159.24 540.74,159.25 541.28,159.25 541.82,159.26 542.36,159.27 542.91,159.28 543.45,159.28 543.99,159.29 544.53,159.3"/>
<polyline stroke="#79D769" points="350.73,1.26 350.77,2.74 350.82,4.2 350.86,5.66 350.91,7.1 350.96,8.52 351,9.94 351.05,11.34 351.11,12.73 351.16,14.11 351.22,15.48 351.27,16.83 351.33,18.17 351.39,19.5 351.45,20.82 351.52,22.13 351.59,23.43 351.65,24.72 351.72,25.99 351.8,27.26 351.87,28.51 351.95,29.76 352.03,30.99 352.11,32.22 352.2,33.43 352.29,34.63 352.38,35.83 352.47,37.01 352.57,38.19 352.67,39.35 352.77,40.51 352.87,41.66 352.98,42.8 353.1,43.93 353.21,45.05 353.33,46.16 353.45,47.27 353.58,48.37 353.71,49.45 353.85,50.54 353.99,51.61 354.13,52.68 354.28,53.73 354.43,54.79 354.59,55.83 354.76,56.87 354.92,57.9 355.1,58.92 355.28,59.94 355.46,60.95 356,63.72 356.54,66.24 357.09,68.54 357.63,70.66 358.17,72.63 358.71,74.47 359.25,76.19 359.79,77.81 360.34,79.34 360.88,80.79 361.42,82.17 361.96,83.48 362.5,84.74 363.04,85.95 363.59,87.1 364.13,88.22 364.67,89.3 365.21,90.33 365.75,91.34 366.3,92.31 366.84,93.26 367.38,94.18 367.92,95.07 368.46,95.94 369,96.79 369.55,97.62 370.09,98.42 370.63,99.21 371.17,99.99 371.71,100.74 372.25,101.48 372.8,102.21 373.34,102.92 373.88,103.62 374.42,104.31 374.96,104.98 375.5,105.65 376.05,106.3 376.59,106.94 377.13,107.58 377.67,108.2 378.21,108.81 378.76,109.42 379.3,110.01 379.84,110.6 380.38,111.18 380.92,111.75 381.46,112.32 382.01,112.87 382.55,113.42 383.09,113.97 383.63,114.51 384.17,115.04 384.71,115.56 385.26,116.08 385.8,116.59 386.34,117.1 386.88,117.6 387.42,118.1 387.97,118.59 388.51,119.07 389.05,119.55 389.59,120.03 390.13,120.5 390.67,120.97 391.22,121.43 391.76,121.88 392.3,122.34 392.84,122.78 393.38,123.23 393.92,123.66 394.47,124.1 395.01,124.53 395.55,124.96 396.09,125.38 396.63,125.8 397.18,126.21 397.72,126.62 398.26,127.03 398.8,127.43 399.34,127.83 399.88,128.23 400.43,128.62 400.97,129.01 401.51,129.39 402.05,129.77 402.59,130.15 403.13,130.52 403.68,130.89 404.22,131.26 404.76,131.62 405.3,131.99 405.84,132.34 406.38,132.7 406.93,133.05 407.47,133.39 408.01,133.74 408.55,134.08 409.09,134.42 409.64,134.75 410.18,135.08 410.72,135.41 411.26,135.74 411.8,136.06 412.34,136.38 412.89,136.69 413.43,137.01 413.97,137.32 414.51,137.62 415.05,137.93 415.59,138.23 416.14,138.53 416.68,138.82 417.22,139.11 417.76,139.4 418.3,139.69 418.85,139.97 419.39,140.25 419.93,140.53 420.47,140.81 421.01,141.08 421.55,141.35 422.1,141.62 422.64,141.88 423.18,142.14 423.72,142.4 424.26,142.66 424.8,142.91 425.35,143.16 425.89,143.41 426.43,143.65 426.97,143.9 427.51,144.14 428.05,144.37 428.6,144.61 429.14,144.84 429.68,145.07 430.22,145.3 430.76,145.52 431.31,145.74 431.85,145.96 432.39,146.18 432.93,146.39 433.47,146.6 434.01,146.81 434.56,147.02 435.1,147.23 435.64,147.43 436.18,147.63 436.72,147.82 437.26,148.02 437.81,148.21 438.35,148.4 438.89,148.59 439.43,148.78 439.97,148.96 440.52,149.14 441.06,149.32 441.6,149.5 442.14,149.67 442.68,149.84 443.22,150.01 443.77,150.18 444.31,150.34 444.85,150.51 445.39,150.67 445.93,150.83 446.47,150.98 447.02,151.14 447.56,151.29 448.1,151.44 448.64,151.59 449.18,151.74 449.73,151.88 450.27,152.02 450.81,152.16 451.35,152.3 451.89,152.44 452.43,152.57 452.98,152.7 453.52,152.84 454.06,152.96 454.6,153.09 455.14,153.22 455.68,153.34 456.23,153.46 456.77,153.58 457.31,153.7 457.85,153.81 458.39,153.93 458.93,154.04 459.48,154.15 460.02,154.26 460.56,154.37 461.1,154.47 461.64,154.58 462.19,154.68 462.73,154.78 463.27,154.88 463.81,154.97 464.35,155.07 464.89,155.16 465.44,155.26 465.98,155.35 466.52,155.44 467.06,155.53 467.6,155.61 468.14,155.7 468.69,155.78 469.23,155.86 469.77,155.94 470.31,156.02 470.85,156.1 471.4,156.18 471.94,156.25 472.48,156.33 473.02,156.4 473.56,156.47 474.1,156.54 474.65,156.61 475.19,156.68 475.73,156.74 476.27,156.81 476.81,156.87 477.35,156.94 477.9,157 478.44,157.06 478.98,157.12 479.52,157.17 480.06,157.23 480.61,157.29 481.15,157.34 481.69,157.4 482.23,157.45 482.77,157.5 483.31,157.55 483.86,157.6 484.4,157.65 484.94,157.7 485.48,157.74 486.02,157.79 486.56,157.83 487.11,157.88 487.65,157.92 488.19,157.96 488.73,158 489.27,158.04 489.81,158.08 490.36,158.12 490.9,158.16 491.44,158.2 491.98,158.23 492.52,158.27 493.07,158.3 493.61,158.34 494.15,158.37 494.69,158.4 495.23,158.43 495.77,158.47 496.32,158.5 496.86,158.52 497.4,158.55 497.94,158.58 498.48,158.61 499.02,158.64 499.57,158.66 500.11,158.69 500.65,158.71 501.19,158.74 501.73,158.76 502.28,158.79 502.82,158.81 503.36,158.83 503.9,158.85 504.44,158.87 504.98,158.89 505.53,158.91 506.07,158.93 506.61,158.95 507.15,158.97 507.69,158.99 508.23,159.01 508.78,159.03 509.32,159.04 509.86,159.06 510.4,159.08 510.94,159.09 511.49,159.11 512.03,159.12 512.57,159.14 513.11,159.15 513.65,159.16 514.19,159.18 514.74,159.19 515.28,159.2 515.82,159.21 516.36,159.23 516.9,159.24 517.44,159.25 517.99,159.26 518.53,159.27 519.07,159.28 519.61,159.29 520.15,159.3 520.69,159.31 521.24,159.32 521.78,159.33 522.32,159.34 522.86,159.35 523.4,159.36 523.95,159.36 524.49,159.37 525.03,159.38 525.57,159.39 526.11,159.39 526.65,159.4 527.2,159.41 527.74,159.41 528.28,159.42 528.82,159.43 529.36,159.43 529.9,159.44 530.45,159.44 530.99,159.45 531.53,159.45 532.07,159.46 532.61,159.46 533.16,159.47 533.7,159.47 534.24,159.48 534.78,159.48 535.32,159.49 535.86,159.49 536.41,159.49 536.95,159.5 537.49,159.5 538.03,159.51 538.57,159.51 539.11,159.51 539.66,159.52 540.2,159.52 540.74,159.52 541.28,159.52 541.82,159.53 542.36,159.53 542.91,159.53 543.45,159.54 543.99,159.54 544.53,159.54"/>
<polyline stroke="#43A7EA" points="349.85,2 349.87,3.87 349.88,5.71 349.9,7.53 349.91,9.32 349.93,11.09 349.94,12.84 349.96,14.57 349.98,16.28 350,17.96 350.02,19.62 350.03,21.27 350.05,22.89 350.08,24.49 350.1,26.07 350.12,27.64 350.14,29.18 350.16,30.7 350.19,32.2 350.21,33.69 350.24,35.16 350.26,36.6 350.29,38.03 350.32,39.45 350.35,40.84 350.38,42.22 350.41,43.57 350.44,44.92 350.47,46.24 350.51,47.55 350.54,48.84 350.58,50.12 350.61,51.38 350.65,52.62 350.69,53.85 350.73,55.06 350.77,56.26 350.82,57.44 350.86,58.61 350.91,59.76 350.96,60.9 351,62.02 351.05,63.13 351.11,64.22 351.16,65.31 351.22,66.37 351.27,67.43 351.33,68.47 351.39,69.5 351.45,70.51 351.52,71.51 351.59,72.5 351.65,73.48 351.72,74.44 351.8,75.39 351.87,76.33 351.95,77.26 352.03,78.18 352.11,79.08 352.2,79.98 352.29,80.86 352.38,81.73 352.47,82.59 352.57,83.44 352.67,84.28 352.77,85.11 352.87,85.92 352.98,86.73 353.1,87.53 353.21,88.31 353.33,89.09 353.45,89.86 353.58,90.62 353.71,91.36 353.85,92.1 353.99,92.83 354.13,93.55 354.28,94.26 354.43,94.97 354.59,95.66 354.76,96.35 354.92,97.02 355.1,97.69 355.28,98.35 355.46,99 356,100.77 356.54,102.35 357.09,103.76 357.63,105.05 358.17,106.22 358.71,107.3 359.25,108.29 359.79,109.22 360.34,110.08 360.88,110.88 361.42,111.64 361.96,112.35 362.5,113.02 363.04,113.65 363.59,114.26 364.13,114.83 364.67,115.38 365.21,115.9 365.75,116.4 366.3,116.88 366.84,117.34 367.38,117.79 367.92,118.21 368.46,118.62 369,119.02 369.55,119.41 370.09,119.78 370.63,120.14 371.17,120.49 371.71,120.83 372.25,121.16 372.8,121.48 373.34,121.79 373.88,122.1 374.42,122.4 374.96,122.69 375.5,122.97 376.05,123.25 376.59,123.52 377.13,123.78 377.67,124.04 378.21,124.3 378.76,124.55 379.3,124.79 379.84,125.03 380.38,125.27 380.92,125.5 381.46,125.73 382.01,125.96 382.55,126.18 383.09,126.39 383.63,126.61 384.17,126.82 384.71,127.03 385.26,127.23 385.8,127.43 386.34,127.63 386.88,127.83 387.42,128.03 387.97,128.22 388.51,128.41 389.05,128.59 389.59,128.78 390.13,128.96 390.67,129.14 391.22,129.32 391.76,129.5 392.3,129.68 392.84,129.85 393.38,130.02 393.92,130.19 394.47,130.36 395.01,130.53 395.55,130.69 396.09,130.86 396.63,131.02 397.18,131.18 397.72,131.34 398.26,131.5 398.8,131.66 399.34,131.82 399.88,131.97 400.43,132.12 400.97,132.28 401.51,132.43 402.05,132.58 402.59,132.73 403.13,132.88 403.68,133.02 404.22,133.17 404.76,133.32 405.3,133.46 405.84,133.61 406.38,133.75 406.93,133.89 407.47,134.03 408.01,134.17 408.55,134.31 409.09,134.45 409.64,134.59 410.18,134.73 410.72,134.86 411.26,135 411.8,135.13 412.34,135.27 412.89,135.4 413.43,135.53 413.97,135.67 414.51,135.8 415.05,135.93 415.59,136.06 416.14,136.19 416.68,136.32 417.22,136.45 417.76,136.58 418.3,136.7 418.85,136.83 419.39,136.96 419.93,137.08 420.47,137.21 421.01,137.33 421.55,137.46 422.1,137.58 422.64,137.7 423.18,137.82 423.72,137.95 424.26,138.07 424.8,138.19 425.35,138.31 425.89,138.43 426.43,138.55 426.97,138.67 427.51,138.79 428.05,138.91 428.6,139.02 429.14,139.14 429.68,139.26 430.22,139.37 430.76,139.49 431.31,139.61 431.85,139.72 432.39,139.84 432.93,139.95 433.47,140.06 434.01,140.18 434.56,140.29 435.1,140.4 435.64,140.52 436.18,140.63 436.72,140.74 437.26,140.85 437.81,140.96 438.35,141.07 438.89,141.18 439.43,141.29 439.97,141.4 440.52,141.51 441.06,141.62 441.6,141.72 442.14,141.83 442.68,141.94 443.22,142.04 443.77,142.15 444.31,142.26 444.85,142.36 445.39,142.47 445.93,142.57 446.47,142.68 447.02,142.78 447.56,142.88 448.1,142.99 448.64,143.09 449.18,143.19 449.73,143.3 450.27,143.4 450.81,143.5 451.35,143.6 451.89,143.7 452.43,143.8 452.98,143.9 453.52,144 454.06,144.1 454.6,144.2 455.14,144.3 455.68,144.4 456.23,144.49 456.77,144.59 457.31,144.69 457.85,144.79 458.39,144.88 458.93,144.98 459.48,145.07 460.02,145.17 460.56,145.26 461.1,145.36 461.64,145.45 462.19,145.55 462.73,145.64 463.27,145.73 463.81,145.83 464.35,145.92 464.89,146.01 465.44,146.1 465.98,146.19 466.52,146.29 467.06,146.38 467.6,146.47 468.14,146.56 468.69,146.65 469.23,146.74 469.77,146.82 470.31,146.91 470.85,147 471.4,147.09 471.94,147.18 472.48,147.26 473.02,147.35 473.56,147.44 474.1,147.52 474.65,147.61 475.19,147.69 475.73,147.78 476.27,147.86 476.81,147.95 477.35,148.03 477.9,148.11 478.44,148.2 478.98,148.28 479.52,148.36 480.06,148.45 480.61,148.53 481.15,148.61 481.69,148.69 482.23,148.77 482.77,148.85 483.31,148.93 483.86,149.01 484.4,149.09 484.94,149.17 485.48,149.25 486.02,149.32 486.56,149.4 487.11,149.48 487.65,149.56 488.19,149.63 488.73,149.71 489.27,149.79 489.81,149.86 490.36,149.94 490.9,150.01 491.44,150.09 491.98,150.16 492.52,150.23 493.07,150.31 493.61,150.38 494.15,150.45 494.69,150.53 495.23,150.6 495.77,150.67 496.32,150.74 496.86,150.81 497.4,150.88 497.94,150.95 498.48,151.02 499.02,151.09 499.57,151.16 500.11,151.23 500.65,151.3 501.19,151.37 501.73,151.43 502.28,151.5 502.82,151.57 503.36,151.63 503.9,151.7 504.44,151.77 504.98,151.83 505.53,151.9 506.07,151.96 506.61,152.03 507.15,152.09 507.69,152.15 508.23,152.22 508.78,152.28 509.32,152.34 509.86,152.41 510.4,152.47 510.94,152.53 511.49,152.59 512.03,152.65 512.57,152.71 513.11,152.77 513.65,152.83 514.19,152.89 514.74,152.95 515.28,153.01 515.82,153.07 516.36,153.13 516.9,153.18 517.44,153.24 517.99,153.3 518.53,153.36 519.07,153.41 519.61,153.47 520.15,153.52 520.69,153.58 521.24,153.63 521.78,153.69 522.32,153.74 522.86,153.8 523.4,153.85 523.95,153.9 524.49,153.96 525.03,154.01 525.57,154.06 526.11,154.11 526.65,154.16 527.2,154.22 527.74,154.27 528.28,154.32 528.82,154.37 529.36,154.42 529.9,154.47 530.45,154.52 530.99,154.56 531.53,154.61 532.07,154.66 532.61,154.71 533.16,154.76 533.7,154.8 534.24,154.85 534.78,154.9 535.32,154.94 535.86,154.99 536.41,155.03 536.95,155.08 537.49,155.12 538.03,155.17 538.57,155.21 539.11,155.26 539.66,155.3 540.2,155.34 540.74,155.39 541.28,155.43 541.82,155.47 542.36,155.51 542.91,155.56 543.45,155.6 543.99,155.64 544.53,155.68"/>
<polyline stroke="#48E6E9" points="349.54,0.89 349.54,2.33 349.54,3.76 349.55,5.17 349.55,6.57 349.56,7.96 349.56,9.33 349.57,10.69 349.57,12.04 349.58,13.38 349.58,14.7 349.59,16.01 349.6,17.31 349.6,18.6 349.61,19.87 349.62,21.13 349.62,22.38 349.63,23.62 349.64,24.84 349.64,26.06 349.65,27.26 349.66,28.45 349.67,29.63 349.68,30.8 349.68,31.96 349.69,33.11 349.7,34.24 349.71,35.37 349.72,36.48 349.73,37.58 349.74,38.67 349.75,39.76 349.76,40.83 349.78,41.89 349.79,42.94 349.8,43.98 349.81,45.01 349.82,46.03 349.84,47.05 349.85,48.05 349.87,49.04 349.88,50.02 349.9,50.99 349.91,51.96 349.93,52.91 349.94,53.85 349.96,54.79 349.98,55.72 350,56.63 350.02,57.54 350.03,58.44 350.05,59.33 350.08,60.21 350.1,61.09 350.12,61.95 350.14,62.81 350.16,63.65 350.19,64.49 350.21,65.32 350.24,66.15 350.26,66.96 350.29,67.77 350.32,68.57 350.35,69.36 350.38,70.14 350.41,70.91 350.44,71.68 350.47,72.44 350.51,73.19 350.54,73.94 350.58,74.67 350.61,75.4 350.65,76.12 350.69,76.84 350.73,77.55 350.77,78.25 350.82,78.94 350.86,79.63 350.91,80.31 350.96,80.98 351,81.64 351.05,82.3 351.11,82.95 351.16,83.6 351.22,84.24 351.27,84.87 351.33,85.49 351.39,86.11 351.45,86.72 351.52,87.33 351.59,87.93 351.65,88.52 351.72,89.11 351.8,89.69 351.87,90.27 351.95,90.84 352.03,91.4 352.11,91.96 352.2,92.51 352.29,93.05 352.38,93.59 352.47,94.13 352.57,94.65 352.67,95.18 352.77,95.69 352.87,96.2 352.98,96.71 353.1,97.21 353.21,97.71 353.33,98.19 353.45,98.68 353.58,99.16 353.71,99.63 353.85,100.1 353.99,100.56 354.13,101.02 354.28,101.48 354.43,101.93 354.59,102.37 354.76,102.81 354.92,103.24 355.1,103.67 355.28,104.1 355.46,104.52 356,105.66 356.54,106.68 357.09,107.6 357.63,108.44 358.17,109.21 358.71,109.91 359.25,110.57 359.79,111.18 360.34,111.74 360.88,112.28 361.42,112.78 361.96,113.25 362.5,113.69 363.04,114.12 363.59,114.52 364.13,114.91 364.67,115.27 365.21,115.63 365.75,115.96 366.3,116.29 366.84,116.6 367.38,116.9 367.92,117.19 368.46,117.47 369,117.75 369.55,118.01 370.09,118.27 370.63,118.52 371.17,118.76 371.71,119 372.25,119.23 372.8,119.46 373.34,119.68 373.88,119.9 374.42,120.11 374.96,120.32 375.5,120.52 376.05,120.72 376.59,120.92 377.13,121.11 377.67,121.31 378.21,121.49 378.76,121.68 379.3,121.86 379.84,122.04 380.38,122.22 380.92,122.4 381.46,122.57 382.01,122.74 382.55,122.91 383.09,123.08 383.63,123.25 384.17,123.42 384.71,123.58 385.26,123.74 385.8,123.91 386.34,124.07 386.88,124.23 387.42,124.38 387.97,124.54 388.51,124.7 389.05,124.85 389.59,125.01 390.13,125.16 390.67,125.32 391.22,125.47 391.76,125.62 392.3,125.77 392.84,125.92 393.38,126.07 393.92,126.22 394.47,126.37 395.01,126.52 395.55,126.67 396.09,126.81 396.63,126.96 397.18,127.11 397.72,127.25 398.26,127.4 398.8,127.55 399.34,127.69 399.88,127.84 400.43,127.98 400.97,128.13 401.51,128.27 402.05,128.42 402.59,128.56 403.13,128.71 403.68,128.85 404.22,129 404.76,129.14 405.3,129.28 405.84,129.43 406.38,129.57 406.93,129.71 407.47,129.86 408.01,130 408.55,130.14 409.09,130.29 409.64,130.43 410.18,130.57 410.72,130.72 411.26,130.86 411.8,131 412.34,131.15 412.89,131.29 413.43,131.43 413.97,131.58 414.51,131.72 415.05,131.86 415.59,132.01 416.14,132.15 416.68,132.29 417.22,132.44 417.76,132.58 418.3,132.72 418.85,132.87 419.39,133.01 419.93,133.15 420.47,133.3 421.01,133.44 421.55,133.58 422.1,133.73 422.64,133.87 423.18,134.01 423.72,134.16 424.26,134.3 424.8,134.44 425.35,134.58 425.89,134.73 426.43,134.87 426.97,135.01 427.51,135.16 428.05,135.3 428.6,135.44 429.14,135.59 429.68,135.73 430.22,135.87 430.76,136.02 431.31,136.16 431.85,136.3 432.39,136.44 432.93,136.59 433.47,136.73 434.01,136.87 434.56,137.01 435.1,137.16 435.64,137.3 436.18,137.44 436.72,137.58 437.26,137.73 437.81,137.87 438.35,138.01 438.89,138.15 439.43,138.29 439.97,138.43 440.52,138.58 441.06,138.72 441.6,138.86 442.14,139 442.68,139.14 443.22,139.28 443.77,139.42 444.31,139.56 444.85,139.7 445.39,139.84 445.93,139.98 446.47,140.12 447.02,140.26 447.56,140.4 448.1,140.54 448.64,140.68 449.18,140.81 449.73,140.95 450.27,141.09 450.81,141.23 451.35,141.37 451.89,141.5 452.43,141.64 452.98,141.78 453.52,141.91 454.06,142.05 454.6,142.18 455.14,142.32 455.68,142.45 456.23,142.59 456.77,142.72 457.31,142.86 457.85,142.99 458.39,143.13 458.93,143.26 459.48,143.39 460.02,143.52 460.56,143.66 461.1,143.79 461.64,143.92 462.19,144.05 462.73,144.18 463.27,144.31 463.81,144.44 464.35,144.57 464.89,144.7 465.44,144.83 465.98,144.96 466.52,145.09 467.06,145.21 467.6,145.34 468.14,145.47 468.69,145.59 469.23,145.72 469.77,145.84 470.31,145.97 470.85,146.09 471.4,146.22 471.94,146.34 472.48,146.46 473.02,146.58 473.56,146.71 474.1,146.83 474.65,146.95 475.19,147.07 475.73,147.19 476.27,147.31 476.81,147.43 477.35,147.55 477.9,147.66 478.44,147.78 478.98,147.9 479.52,148.01 480.06,148.13 480.61,148.24 481.15,148.36 481.69,148.47 482.23,148.58 482.77,148.7 483.31,148.81 483.86,148.92 484.4,149.03 484.94,149.14 485.48,149.25 486.02,149.36 486.56,149.47 487.11,149.58 487.65,149.68 488.19,149.79 488.73,149.9 489.27,150 489.81,150.11 490.36,150.21 490.9,150.32 491.44,150.42 491.98,150.52 492.52,150.62 493.07,150.72 493.61,150.82 494.15,150.92 494.69,151.02 495.23,151.12 495.77,151.22 496.32,151.32 496.86,151.41 497.4,151.51 497.94,151.6 498.48,151.7 499.02,151.79 499.57,151.89 500.11,151.98 500.65,152.07 501.19,152.16 501.73,152.25 502.28,152.34 502.82,152.43 503.36,152.52 503.9,152.61 504.44,152.7 504.98,152.78 505.53,152.87 506.07,152.95 506.61,153.04 507.15,153.12 507.69,153.21 508.23,153.29 508.78,153.37 509.32,153.45 509.86,153.53 510.4,153.61 510.94,153.69 511.49,153.77 512.03,153.85 512.57,153.92 513.11,154 513.65,154.08 514.19,154.15 514.74,154.23 515.28,154.3 515.82,154.37 516.36,154.45 516.9,154.52 517.44,154.59 517.99,154.66 518.53,154.73 519.07,154.8 519.61,154.87 520.15,154.93 520.69,155 521.24,155.07 521.78,155.13 522.32,155.2 522.86,155.26 523.4,155.33 523.95,155.39 524.49,155.45 525.03,155.51 525.57,155.57 526.11,155.64 526.65,155.7 527.2,155.75 527.74,155.81 528.28,155.87 528.82,155.93 529.36,155.99 529.9,156.04 530.45,156.1 530.99,156.15 531.53,156.21 532.07,156.26 532.61,156.31 533.16,156.37 533.7,156.42 534.24,156.47 534.78,156.52 535.32,156.57 535.86,156.62 536.41,156.67 536.95,156.72 537.49,156.76 538.03,156.81 538.57,156.86 539.11,156.9 539.66,156.95 540.2,156.99 540.74,157.04 541.28,157.08 541.82,157.12 542.36,157.17 542.91,157.21 543.45,157.25 543.99,157.29 544.53,157.33"/>
</g>
<rect x="342.4" y="9.4" width="196" height="155.85" fill="none" stroke="#3a3a3a" stroke-width="1.1"/>
<line x1="349.4" y1="165.25" x2="349.4" y2="172.05" stroke="#3a3a3a" stroke-width="1.1"/>
<text x="349.4" y="189.55" text-anchor="middle">0.0</text>
<line x1="379.7" y1="165.25" x2="379.7" y2="172.05" stroke="#3a3a3a" stroke-width="1.1"/>
<text x="379.7" y="189.55" text-anchor="middle">0.5</text>
<line x1="410" y1="165.25" x2="410" y2="172.05" stroke="#3a3a3a" stroke-width="1.1"/>
<text x="410" y="189.55" text-anchor="middle">1.0</text>
<line x1="440.3" y1="165.25" x2="440.3" y2="172.05" stroke="#3a3a3a" stroke-width="1.1"/>
<text x="440.3" y="189.55" text-anchor="middle">1.5</text>
<line x1="470.6" y1="165.25" x2="470.6" y2="172.05" stroke="#3a3a3a" stroke-width="1.1"/>
<text x="470.6" y="189.55" text-anchor="middle">2.0</text>
<line x1="500.9" y1="165.25" x2="500.9" y2="172.05" stroke="#3a3a3a" stroke-width="1.1"/>
<text x="500.9" y="189.55" text-anchor="middle">2.5</text>
<line x1="531.2" y1="165.25" x2="531.2" y2="172.05" stroke="#3a3a3a" stroke-width="1.1"/>
<text x="531.2" y="189.55" text-anchor="middle">3.0</text>
<line x1="335.6" y1="159.6" x2="342.4" y2="159.6" stroke="#3a3a3a" stroke-width="1.1"/>
<text transform="translate(326.7,159.6) rotate(-90)" x="0" y="0" text-anchor="middle">0.0</text>
<line x1="335.6" y1="123.52" x2="342.4" y2="123.52" stroke="#3a3a3a" stroke-width="1.1"/>
<text transform="translate(326.7,123.52) rotate(-90)" x="0" y="0" text-anchor="middle">0.5</text>
<line x1="335.6" y1="87.45" x2="342.4" y2="87.45" stroke="#3a3a3a" stroke-width="1.1"/>
<text transform="translate(326.7,87.45) rotate(-90)" x="0" y="0" text-anchor="middle">1.0</text>
<line x1="335.6" y1="51.37" x2="342.4" y2="51.37" stroke="#3a3a3a" stroke-width="1.1"/>
<text transform="translate(326.7,51.37) rotate(-90)" x="0" y="0" text-anchor="middle">1.5</text>
<line x1="335.6" y1="15.3" x2="342.4" y2="15.3" stroke="#3a3a3a" stroke-width="1.1"/>
<text transform="translate(326.7,15.3) rotate(-90)" x="0" y="0" text-anchor="middle">2.0</text>
<text transform="translate(300.1,87.33) rotate(-90)" text-anchor="middle">PDF</text>
<line x1="443.6" y1="29.3" x2="463.6" y2="29.3" stroke="#E46D81" stroke-width="1.1"/>
<text x="472.9" y="33.1">&#952;=1, &#955;=0.6</text>
<line x1="443.6" y1="43.15" x2="463.6" y2="43.15" stroke="#79D769" stroke-width="1.1"/>
<text x="472.9" y="46.95">&#952;=1, &#955;=0.7</text>
<line x1="443.6" y1="57" x2="463.6" y2="57" stroke="#43A7EA" stroke-width="1.1"/>
<text x="472.9" y="60.8">&#952;=0.5, &#955;=0.6</text>
<line x1="443.6" y1="70.85" x2="463.6" y2="70.85" stroke="#48E6E9" stroke-width="1.1"/>
<text x="472.9" y="74.65">&#952;=0.5, &#955;=0.7</text>
<clipPath id="c2"><rect x="59.6" y="217.9" width="196.2" height="155.55"/></clipPath>
<g clip-path="url(#c2)" fill="none" stroke-width="1.1" stroke-linejoin="round">
<polyline stroke="#E46D81" points="66.91,359.15 66.92,359.15 66.93,359.15 66.94,359.15 66.95,359.15 66.95,359.14 66.96,359.14 66.97,359.14 66.98,359.14 66.99,359.14 67,359.14 67.01,359.14 67.02,359.13 67.03,359.13 67.04,359.13 67.05,359.13 67.06,359.13 67.07,359.13 67.08,359.13 67.09,359.12 67.1,359.12 67.11,359.12 67.12,359.12 67.13,359.12 67.14,359.12 67.15,359.11 67.16,359.11 67.17,359.11 67.18,359.11 67.19,359.11 67.2,359.11 67.21,359.11 67.22,359.1 67.24,359.1 67.25,359.1 67.26,359.1 67.27,359.1 67.29,359.09 67.3,359.09 67.32,359.09 67.33,359.09 67.35,359.09 67.36,359.08 67.38,359.08 67.39,359.08 67.41,359.08 67.43,359.07 67.45,359.07 67.46,359.07 67.48,359.06 67.5,359.06 67.52,359.06 67.55,359.06 67.57,359.05 67.59,359.05 67.61,359.05 67.64,359.04 67.66,359.04 67.69,359.03 67.71,359.03 67.74,359.03 67.77,359.02 67.8,359.02 67.83,359.01 67.86,359.01 67.89,359 67.92,359 67.96,358.99 67.99,358.99 68.03,358.98 68.06,358.98 68.1,358.97 68.14,358.97 68.18,358.96 68.22,358.95 68.27,358.95 68.31,358.94 68.36,358.93 68.4,358.92 68.45,358.92 68.5,358.91 68.55,358.9 68.61,358.89 68.66,358.89 68.72,358.88 68.78,358.87 68.84,358.86 68.9,358.85 68.97,358.84 69.03,358.83 69.1,358.82 69.17,358.81 69.24,358.8 69.32,358.78 69.4,358.77 69.48,358.76 69.56,358.75 69.65,358.73 69.73,358.72 69.82,358.7 69.92,358.69 70.01,358.68 70.11,358.66 70.21,358.64 70.32,358.63 70.43,358.61 70.54,358.59 70.66,358.57 70.78,358.55 70.9,358.53 71.03,358.51 71.16,358.49 71.29,358.47 71.43,358.45 71.58,358.43 71.73,358.4 71.88,358.38 72.04,358.35 72.2,358.32 72.37,358.3 72.54,358.27 72.72,358.24 72.9,358.21 73.44,358.12 73.99,358.03 74.53,357.94 75.07,357.85 75.61,357.75 76.15,357.66 76.69,357.56 77.23,357.47 77.77,357.37 78.31,357.27 78.86,357.18 79.4,357.08 79.94,356.98 80.48,356.88 81.02,356.78 81.56,356.67 82.1,356.57 82.64,356.46 83.18,356.36 83.73,356.25 84.27,356.15 84.81,356.04 85.35,355.93 85.89,355.82 86.43,355.71 86.97,355.59 87.51,355.48 88.05,355.37 88.6,355.25 89.14,355.14 89.68,355.02 90.22,354.9 90.76,354.78 91.3,354.66 91.84,354.54 92.38,354.42 92.92,354.29 93.47,354.17 94.01,354.04 94.55,353.91 95.09,353.79 95.63,353.66 96.17,353.53 96.71,353.39 97.25,353.26 97.79,353.13 98.34,352.99 98.88,352.86 99.42,352.72 99.96,352.58 100.5,352.44 101.04,352.3 101.58,352.15 102.12,352.01 102.67,351.86 103.21,351.72 103.75,351.57 104.29,351.42 104.83,351.27 105.37,351.12 105.91,350.96 106.45,350.81 106.99,350.65 107.54,350.5 108.08,350.34 108.62,350.18 109.16,350.01 109.7,349.85 110.24,349.69 110.78,349.52 111.32,349.35 111.86,349.18 112.41,349.01 112.95,348.84 113.49,348.67 114.03,348.49 114.57,348.31 115.11,348.14 115.65,347.96 116.19,347.77 116.73,347.59 117.28,347.4 117.82,347.22 118.36,347.03 118.9,346.84 119.44,346.65 119.98,346.45 120.52,346.26 121.06,346.06 121.6,345.86 122.15,345.66 122.69,345.46 123.23,345.26 123.77,345.05 124.31,344.84 124.85,344.63 125.39,344.42 125.93,344.21 126.47,343.99 127.02,343.77 127.56,343.55 128.1,343.33 128.64,343.11 129.18,342.88 129.72,342.66 130.26,342.43 130.8,342.2 131.34,341.96 131.89,341.73 132.43,341.49 132.97,341.25 133.51,341.01 134.05,340.76 134.59,340.52 135.13,340.27 135.67,340.02 136.21,339.77 136.76,339.51 137.3,339.25 137.84,338.99 138.38,338.73 138.92,338.47 139.46,338.2 140,337.93 140.54,337.66 141.09,337.38 141.63,337.11 142.17,336.83 142.71,336.54 143.25,336.26 143.79,335.97 144.33,335.68 144.87,335.39 145.41,335.1 145.96,334.8 146.5,334.5 147.04,334.2 147.58,333.89 148.12,333.58 148.66,333.27 149.2,332.96 149.74,332.64 150.28,332.32 150.83,332 151.37,331.68 151.91,331.35 152.45,331.02 152.99,330.68 153.53,330.35 154.07,330.01 154.61,329.66 155.15,329.32 155.7,328.97 156.24,328.62 156.78,328.26 157.32,327.9 157.86,327.54 158.4,327.18 158.94,326.81 159.48,326.44 160.02,326.06 160.57,325.68 161.11,325.3 161.65,324.92 162.19,324.53 162.73,324.13 163.27,323.74 163.81,323.34 164.35,322.94 164.89,322.53 165.44,322.12 165.98,321.71 166.52,321.29 167.06,320.87 167.6,320.44 168.14,320.01 168.68,319.58 169.22,319.14 169.76,318.7 170.31,318.26 170.85,317.81 171.39,317.36 171.93,316.9 172.47,316.44 173.01,315.98 173.55,315.51 174.09,315.03 174.64,314.56 175.18,314.08 175.72,313.59 176.26,313.1 176.8,312.6 177.34,312.11 177.88,311.6 178.42,311.09 178.96,310.58 179.51,310.06 180.05,309.54 180.59,309.01 181.13,308.48 181.67,307.95 182.21,307.41 182.75,306.86 183.29,306.31 183.83,305.75 184.38,305.19 184.92,304.63 185.46,304.06 186,303.48 186.54,302.9 187.08,302.31 187.62,301.72 188.16,301.12 188.7,300.52 189.25,299.91 189.79,299.3 190.33,298.68 190.87,298.06 191.41,297.43 191.95,296.79 192.49,296.15 193.03,295.5 193.57,294.85 194.12,294.19 194.66,293.53 195.2,292.86 195.74,292.18 196.28,291.5 196.82,290.81 197.36,290.11 197.9,289.41 198.44,288.7 198.99,287.99 199.53,287.27 200.07,286.54 200.61,285.81 201.15,285.07 201.69,284.32 202.23,283.57 202.77,282.81 203.31,282.04 203.86,281.27 204.4,280.49 204.94,279.7 205.48,278.91 206.02,278.11 206.56,277.3 207.1,276.48 207.64,275.66 208.18,274.83 208.73,273.99 209.27,273.14 209.81,272.29 210.35,271.43 210.89,270.56 211.43,269.68 211.97,268.8 212.51,267.9 213.06,267 213.6,266.09 214.14,265.18 214.68,264.25 215.22,263.32 215.76,262.38 216.3,261.43 216.84,260.47 217.38,259.5 217.93,258.52 218.47,257.54 219.01,256.55 219.55,255.54 220.09,254.53 220.63,253.51 221.17,252.48 221.71,251.44 222.25,250.39 222.8,249.33 223.34,248.27 223.88,247.19 224.42,246.1 224.96,245.01 225.5,243.9 226.04,242.78 226.58,241.66 227.12,240.52 227.67,239.38 228.21,238.22 228.75,237.05 229.29,235.87 229.83,234.69 230.37,233.49 230.91,232.28 231.45,231.06 231.99,229.82 232.54,228.58 233.08,227.33 233.62,226.06 234.16,224.79 234.7,223.5 235.24,222.2 235.78,220.89 236.32,219.57 236.86,218.23 237.41,216.88 237.95,215.53 238.49,214.15 239.03,212.77 239.57,211.38 240.11,209.97"/>
<polyline stroke="#79D769" points="66.91,367.77 66.91,367.76 66.92,367.75 66.92,367.74 66.92,367.73 66.93,367.72 66.93,367.71 66.93,367.7 66.94,367.69 66.94,367.68 66.94,367.67 66.95,367.66 66.95,367.65 66.95,367.64 66.96,367.63 66.96,367.62 66.97,367.61 66.97,367.6 66.97,367.59 66.98,367.58 66.98,367.57 66.99,367.56 66.99,367.55 66.99,367.54 67,367.53 67,367.52 67.01,367.51 67.01,367.5 67.02,367.49 67.02,367.47 67.03,367.46 67.03,367.45 67.04,367.44 67.05,367.43 67.05,367.42 67.06,367.4 67.06,367.39 67.07,367.38 67.08,367.37 67.09,367.35 67.09,367.34 67.1,367.33 67.11,367.31 67.12,367.3 67.13,367.29 67.13,367.27 67.14,367.26 67.15,367.24 67.16,367.23 67.17,367.21 67.18,367.2 67.19,367.18 67.2,367.16 67.21,367.15 67.22,367.13 67.24,367.12 67.25,367.1 67.26,367.08 67.27,367.06 67.29,367.05 67.3,367.03 67.32,367.01 67.33,366.99 67.35,366.97 67.36,366.95 67.38,366.93 67.39,366.91 67.41,366.89 67.43,366.87 67.45,366.85 67.46,366.83 67.48,366.81 67.5,366.79 67.52,366.77 67.55,366.74 67.57,366.72 67.59,366.7 67.61,366.68 67.64,366.65 67.66,366.63 67.69,366.6 67.71,366.58 67.74,366.55 67.77,366.53 67.8,366.5 67.83,366.47 67.86,366.45 67.89,366.42 67.92,366.39 67.96,366.36 67.99,366.33 68.03,366.3 68.06,366.27 68.1,366.24 68.14,366.21 68.18,366.18 68.22,366.15 68.27,366.12 68.31,366.09 68.36,366.05 68.4,366.02 68.45,365.98 68.5,365.95 68.55,365.91 68.61,365.88 68.66,365.84 68.72,365.8 68.78,365.77 68.84,365.73 68.9,365.69 68.97,365.65 69.03,365.61 69.1,365.57 69.17,365.52 69.24,365.48 69.32,365.44 69.4,365.39 69.48,365.35 69.56,365.3 69.65,365.26 69.73,365.21 69.82,365.16 69.92,365.11 70.01,365.06 70.11,365.01 70.21,364.96 70.32,364.91 70.43,364.85 70.54,364.8 70.66,364.75 70.78,364.69 70.9,364.63 71.03,364.57 71.16,364.51 71.29,364.45 71.43,364.39 71.58,364.33 71.73,364.26 71.88,364.2 72.04,364.13 72.2,364.06 72.37,363.99 72.54,363.92 72.72,363.85 72.9,363.77 73.44,363.56 73.99,363.35 74.53,363.15 75.07,362.95 75.61,362.75 76.15,362.55 76.69,362.36 77.23,362.17 77.77,361.98 78.31,361.79 78.86,361.6 79.4,361.42 79.94,361.23 80.48,361.04 81.02,360.85 81.56,360.66 82.1,360.48 82.64,360.29 83.18,360.1 83.73,359.9 84.27,359.71 84.81,359.52 85.35,359.32 85.89,359.13 86.43,358.93 86.97,358.73 87.51,358.53 88.05,358.33 88.6,358.12 89.14,357.91 89.68,357.7 90.22,357.49 90.76,357.28 91.3,357.06 91.84,356.84 92.38,356.62 92.92,356.39 93.47,356.16 94.01,355.93 94.55,355.7 95.09,355.46 95.63,355.22 96.17,354.98 96.71,354.73 97.25,354.48 97.79,354.23 98.34,353.97 98.88,353.71 99.42,353.44 99.96,353.17 100.5,352.9 101.04,352.62 101.58,352.34 102.12,352.05 102.67,351.76 103.21,351.46 103.75,351.16 104.29,350.85 104.83,350.54 105.37,350.23 105.91,349.91 106.45,349.58 106.99,349.25 107.54,348.91 108.08,348.57 108.62,348.22 109.16,347.86 109.7,347.5 110.24,347.14 110.78,346.76 111.32,346.38 111.86,345.99 112.41,345.6 112.95,345.2 113.49,344.79 114.03,344.38 114.57,343.95 115.11,343.52 115.65,343.09 116.19,342.64 116.73,342.19 117.28,341.73 117.82,341.26 118.36,340.78 118.9,340.29 119.44,339.79 119.98,339.29 120.52,338.77 121.06,338.25 121.6,337.71 122.15,337.17 122.69,336.61 123.23,336.05 123.77,335.47 124.31,334.89 124.85,334.29 125.39,333.68 125.93,333.06 126.47,332.43 127.02,331.78 127.56,331.12 128.1,330.45 128.64,329.77 129.18,329.08 129.72,328.37 130.26,327.64 130.8,326.91 131.34,326.16 131.89,325.39 132.43,324.61 132.97,323.81 133.51,323 134.05,322.18 134.59,321.33 135.13,320.47 135.67,319.59 136.21,318.7 136.76,317.79 137.3,316.86 137.84,315.91 138.38,314.94 138.92,313.95 139.46,312.94 140,311.92 140.54,310.87 141.09,309.8 141.63,308.71 142.17,307.59 142.71,306.46 143.25,305.3 143.79,304.12 144.33,302.91 144.87,301.68 145.41,300.42 145.96,299.14 146.5,297.83 147.04,296.5 147.58,295.14 148.12,293.75 148.66,292.33 149.2,290.88 149.74,289.4 150.28,287.89 150.83,286.35 151.37,284.78 151.91,283.17 152.45,281.53 152.99,279.86 153.53,278.15 154.07,276.41 154.61,274.63 155.15,272.81 155.7,270.95 156.24,269.06 156.78,267.12 157.32,265.14 157.86,263.12 158.4,261.06 158.94,258.96 159.48,256.81 160.02,254.61 160.57,252.37 161.11,250.07 161.65,247.73 162.19,245.34 162.73,242.9 163.27,240.41 163.81,237.86 164.35,235.25 164.89,232.59 165.44,229.88 165.98,227.1 166.52,224.26 167.06,221.36 167.6,218.4 168.14,215.38 168.68,212.28 169.22,209.12"/>
<polyline stroke="#43A7EA" points="66.91,363.68 66.92,363.68 66.92,363.67 66.93,363.67 66.94,363.67 66.95,363.67 66.96,363.67 66.97,363.67 66.98,363.67 66.99,363.67 67,363.67 67.01,363.67 67.02,363.67 67.03,363.67 67.04,363.67 67.05,363.67 67.05,363.66 67.06,363.66 67.07,363.66 67.08,363.66 67.09,363.66 67.1,363.66 67.11,363.66 67.12,363.66 67.13,363.66 67.14,363.66 67.15,363.66 67.16,363.66 67.17,363.66 67.18,363.66 67.19,363.65 67.2,363.65 67.21,363.65 67.22,363.65 67.24,363.65 67.25,363.65 67.26,363.65 67.27,363.65 67.29,363.65 67.3,363.65 67.32,363.65 67.33,363.64 67.35,363.64 67.36,363.64 67.38,363.64 67.39,363.64 67.41,363.64 67.43,363.64 67.45,363.64 67.46,363.63 67.48,363.63 67.5,363.63 67.52,363.63 67.55,363.63 67.57,363.63 67.59,363.62 67.61,363.62 67.64,363.62 67.66,363.62 67.69,363.62 67.71,363.62 67.74,363.61 67.77,363.61 67.8,363.61 67.83,363.61 67.86,363.6 67.89,363.6 67.92,363.6 67.96,363.6 67.99,363.59 68.03,363.59 68.06,363.59 68.1,363.59 68.14,363.58 68.18,363.58 68.22,363.58 68.27,363.57 68.31,363.57 68.36,363.57 68.4,363.56 68.45,363.56 68.5,363.55 68.55,363.55 68.61,363.55 68.66,363.54 68.72,363.54 68.78,363.53 68.84,363.53 68.9,363.52 68.97,363.52 69.03,363.51 69.1,363.51 69.17,363.5 69.24,363.5 69.32,363.49 69.4,363.49 69.48,363.48 69.56,363.47 69.65,363.47 69.73,363.46 69.82,363.45 69.92,363.45 70.01,363.44 70.11,363.43 70.21,363.42 70.32,363.41 70.43,363.4 70.54,363.4 70.66,363.39 70.78,363.38 70.9,363.37 71.03,363.36 71.16,363.35 71.29,363.34 71.43,363.32 71.58,363.31 71.73,363.3 71.88,363.29 72.04,363.28 72.2,363.26 72.37,363.25 72.54,363.23 72.72,363.22 72.9,363.2 73.44,363.16 73.99,363.11 74.53,363.07 75.07,363.02 75.61,362.98 76.15,362.93 76.69,362.88 77.23,362.83 77.77,362.79 78.31,362.74 78.86,362.69 79.4,362.64 79.94,362.59 80.48,362.54 81.02,362.49 81.56,362.44 82.1,362.38 82.64,362.33 83.18,362.28 83.73,362.23 84.27,362.17 84.81,362.12 85.35,362.06 85.89,362.01 86.43,361.95 86.97,361.9 87.51,361.84 88.05,361.78 88.6,361.73 89.14,361.67 89.68,361.61 90.22,361.55 90.76,361.49 91.3,361.43 91.84,361.37 92.38,361.31 92.92,361.25 93.47,361.18 94.01,361.12 94.55,361.06 95.09,360.99 95.63,360.93 96.17,360.86 96.71,360.8 97.25,360.73 97.79,360.66 98.34,360.6 98.88,360.53 99.42,360.46 99.96,360.39 100.5,360.32 101.04,360.25 101.58,360.18 102.12,360.1 102.67,360.03 103.21,359.96 103.75,359.88 104.29,359.81 104.83,359.73 105.37,359.66 105.91,359.58 106.45,359.5 106.99,359.43 107.54,359.35 108.08,359.27 108.62,359.19 109.16,359.11 109.7,359.03 110.24,358.94 110.78,358.86 111.32,358.78 111.86,358.69 112.41,358.61 112.95,358.52 113.49,358.43 114.03,358.35 114.57,358.26 115.11,358.17 115.65,358.08 116.19,357.99 116.73,357.89 117.28,357.8 117.82,357.71 118.36,357.61 118.9,357.52 119.44,357.42 119.98,357.33 120.52,357.23 121.06,357.13 121.6,357.03 122.15,356.93 122.69,356.83 123.23,356.73 123.77,356.62 124.31,356.52 124.85,356.42 125.39,356.31 125.93,356.2 126.47,356.1 127.02,355.99 127.56,355.88 128.1,355.77 128.64,355.66 129.18,355.54 129.72,355.43 130.26,355.31 130.8,355.2 131.34,355.08 131.89,354.96 132.43,354.84 132.97,354.73 133.51,354.6 134.05,354.48 134.59,354.36 135.13,354.23 135.67,354.11 136.21,353.98 136.76,353.85 137.3,353.73 137.84,353.6 138.38,353.46 138.92,353.33 139.46,353.2 140,353.06 140.54,352.93 141.09,352.79 141.63,352.65 142.17,352.51 142.71,352.37 143.25,352.23 143.79,352.09 144.33,351.94 144.87,351.8 145.41,351.65 145.96,351.5 146.5,351.35 147.04,351.2 147.58,351.05 148.12,350.89 148.66,350.74 149.2,350.58 149.74,350.42 150.28,350.26 150.83,350.1 151.37,349.94 151.91,349.77 152.45,349.61 152.99,349.44 153.53,349.27 154.07,349.1 154.61,348.93 155.15,348.76 155.7,348.58 156.24,348.41 156.78,348.23 157.32,348.05 157.86,347.87 158.4,347.69 158.94,347.5 159.48,347.32 160.02,347.13 160.57,346.94 161.11,346.75 161.65,346.56 162.19,346.36 162.73,346.17 163.27,345.97 163.81,345.77 164.35,345.57 164.89,345.37 165.44,345.16 165.98,344.95 166.52,344.74 167.06,344.53 167.6,344.32 168.14,344.11 168.68,343.89 169.22,343.67 169.76,343.45 170.31,343.23 170.85,343.01 171.39,342.78 171.93,342.55 172.47,342.32 173.01,342.09 173.55,341.85 174.09,341.62 174.64,341.38 175.18,341.14 175.72,340.89 176.26,340.65 176.8,340.4 177.34,340.15 177.88,339.9 178.42,339.65 178.96,339.39 179.51,339.13 180.05,338.87 180.59,338.61 181.13,338.34 181.67,338.07 182.21,337.8 182.75,337.53 183.29,337.25 183.83,336.98 184.38,336.7 184.92,336.41 185.46,336.13 186,335.84 186.54,335.55 187.08,335.26 187.62,334.96 188.16,334.66 188.7,334.36 189.25,334.06 189.79,333.75 190.33,333.44 190.87,333.13 191.41,332.81 191.95,332.5 192.49,332.17 193.03,331.85 193.57,331.53 194.12,331.2 194.66,330.86 195.2,330.53 195.74,330.19 196.28,329.85 196.82,329.5 197.36,329.16 197.9,328.81 198.44,328.45 198.99,328.1 199.53,327.74 200.07,327.37 200.61,327.01 201.15,326.64 201.69,326.26 202.23,325.89 202.77,325.51 203.31,325.12 203.86,324.74 204.4,324.34 204.94,323.95 205.48,323.55 206.02,323.15 206.56,322.75 207.1,322.34 207.64,321.93 208.18,321.51 208.73,321.09 209.27,320.67 209.81,320.24 210.35,319.81 210.89,319.38 211.43,318.94 211.97,318.5 212.51,318.05 213.06,317.6 213.6,317.15 214.14,316.69 214.68,316.23 215.22,315.76 215.76,315.29 216.3,314.81 216.84,314.33 217.38,313.85 217.93,313.36 218.47,312.87 219.01,312.37 219.55,311.87 220.09,311.37 220.63,310.86 221.17,310.34 221.71,309.82 222.25,309.3 222.8,308.77 223.34,308.23 223.88,307.7 224.42,307.15 224.96,306.6 225.5,306.05 226.04,305.49 226.58,304.93 227.12,304.36 227.67,303.79 228.21,303.21 228.75,302.63 229.29,302.04 229.83,301.44 230.37,300.84 230.91,300.24 231.45,299.63 231.99,299.01 232.54,298.39 233.08,297.76 233.62,297.13 234.16,296.49 234.7,295.85 235.24,295.2 235.78,294.54 236.32,293.88 236.86,293.22 237.41,292.54 237.95,291.86 238.49,291.18 239.03,290.49 239.57,289.79 240.11,289.08 240.65,288.37 241.19,287.66 241.73,286.93 242.28,286.2 242.82,285.47 243.36,284.72 243.9,283.97 244.44,283.22 244.98,282.46 245.52,281.69 246.06,280.91 246.61,280.12 247.15,279.33 247.69,278.54 248.23,277.73 248.77,276.92 249.31,276.1 249.85,275.27 250.39,274.44 250.93,273.59 251.48,272.74 252.02,271.89 252.56,271.02 253.1,270.15 253.64,269.27 254.18,268.38 254.72,267.49 255.26,266.58 255.8,265.67 256.35,264.75 256.89,263.82 257.43,262.88 257.97,261.94 258.51,260.98 259.05,260.02 259.59,259.05 260.13,258.07 260.67,257.08 261.22,256.08 261.76,255.07"/>
<polyline stroke="#48E6E9" points="66.91,367.99 66.91,367.98 66.92,367.98 66.92,367.97 66.92,367.96 66.93,367.96 66.93,367.95 66.94,367.95 66.94,367.94 66.94,367.93 66.95,367.93 66.95,367.92 66.96,367.92 66.96,367.91 66.97,367.9 66.97,367.89 66.98,367.89 66.98,367.88 66.99,367.88 66.99,367.87 67,367.86 67.01,367.85 67.02,367.84 67.03,367.83 67.04,367.82 67.05,367.81 67.06,367.8 67.07,367.79 67.08,367.78 67.09,367.78 67.09,367.77 67.1,367.76 67.11,367.76 67.12,367.75 67.13,367.74 67.14,367.73 67.15,367.72 67.16,367.71 67.17,367.71 67.18,367.7 67.19,367.69 67.2,367.68 67.21,367.67 67.22,367.67 67.24,367.66 67.25,367.65 67.26,367.64 67.27,367.63 67.29,367.62 67.3,367.61 67.32,367.61 67.33,367.6 67.35,367.59 67.36,367.58 67.38,367.57 67.39,367.56 67.41,367.55 67.43,367.54 67.45,367.53 67.46,367.52 67.48,367.51 67.5,367.49 67.52,367.48 67.55,367.47 67.57,367.46 67.59,367.45 67.61,367.44 67.64,367.43 67.66,367.41 67.69,367.4 67.71,367.39 67.74,367.38 67.77,367.36 67.8,367.35 67.83,367.34 67.86,367.32 67.89,367.31 67.92,367.3 67.96,367.28 67.99,367.27 68.03,367.25 68.06,367.24 68.1,367.22 68.14,367.21 68.18,367.19 68.22,367.18 68.27,367.16 68.31,367.14 68.36,367.13 68.4,367.11 68.45,367.09 68.5,367.07 68.55,367.06 68.61,367.04 68.66,367.02 68.72,367 68.78,366.98 68.84,366.96 68.9,366.94 68.97,366.92 69.03,366.9 69.1,366.88 69.17,366.86 69.24,366.84 69.32,366.82 69.4,366.8 69.48,366.77 69.56,366.75 69.65,366.73 69.73,366.7 69.82,366.68 69.92,366.66 70.01,366.63 70.11,366.61 70.21,366.58 70.32,366.55 70.43,366.53 70.54,366.5 70.66,366.47 70.78,366.44 70.9,366.42 71.03,366.39 71.16,366.36 71.29,366.33 71.43,366.3 71.58,366.26 71.73,366.23 71.88,366.2 72.04,366.16 72.2,366.13 72.37,366.1 72.54,366.06 72.72,366.02 72.9,365.99 73.44,365.88 73.99,365.78 74.53,365.67 75.07,365.57 75.61,365.47 76.15,365.38 76.69,365.28 77.23,365.19 77.77,365.09 78.31,365 78.86,364.9 79.4,364.81 79.94,364.71 80.48,364.62 81.02,364.53 81.56,364.43 82.1,364.34 82.64,364.24 83.18,364.15 83.73,364.05 84.27,363.96 84.81,363.86 85.35,363.76 85.89,363.66 86.43,363.56 86.97,363.46 87.51,363.36 88.05,363.26 88.6,363.16 89.14,363.06 89.68,362.95 90.22,362.85 90.76,362.74 91.3,362.63 91.84,362.52 92.38,362.41 92.92,362.3 93.47,362.18 94.01,362.07 94.55,361.95 95.09,361.83 95.63,361.71 96.17,361.59 96.71,361.47 97.25,361.34 97.79,361.21 98.34,361.08 98.88,360.95 99.42,360.82 99.96,360.69 100.5,360.55 101.04,360.41 101.58,360.27 102.12,360.12 102.67,359.98 103.21,359.83 103.75,359.68 104.29,359.53 104.83,359.37 105.37,359.21 105.91,359.05 106.45,358.89 106.99,358.72 107.54,358.56 108.08,358.38 108.62,358.21 109.16,358.03 109.7,357.85 110.24,357.67 110.78,357.48 111.32,357.29 111.86,357.1 112.41,356.9 112.95,356.7 113.49,356.5 114.03,356.29 114.57,356.08 115.11,355.86 115.65,355.64 116.19,355.42 116.73,355.19 117.28,354.96 117.82,354.73 118.36,354.49 118.9,354.24 119.44,354 119.98,353.74 120.52,353.49 121.06,353.22 121.6,352.96 122.15,352.68 122.69,352.41 123.23,352.12 123.77,351.84 124.31,351.54 124.85,351.24 125.39,350.94 125.93,350.63 126.47,350.31 127.02,349.99 127.56,349.66 128.1,349.33 128.64,348.99 129.18,348.64 129.72,348.28 130.26,347.92 130.8,347.55 131.34,347.18 131.89,346.8 132.43,346.41 132.97,346.01 133.51,345.6 134.05,345.19 134.59,344.77 135.13,344.34 135.67,343.9 136.21,343.45 136.76,342.99 137.3,342.53 137.84,342.05 138.38,341.57 138.92,341.08 139.46,340.57 140,340.06 140.54,339.53 141.09,339 141.63,338.45 142.17,337.9 142.71,337.33 143.25,336.75 143.79,336.16 144.33,335.56 144.87,334.94 145.41,334.31 145.96,333.67 146.5,333.02 147.04,332.35 147.58,331.67 148.12,330.97 148.66,330.26 149.2,329.54 149.74,328.8 150.28,328.05 150.83,327.27 151.37,326.49 151.91,325.69 152.45,324.87 152.99,324.03 153.53,323.18 154.07,322.3 154.61,321.41 155.15,320.5 155.7,319.58 156.24,318.63 156.78,317.66 157.32,316.67 157.86,315.66 158.4,314.63 158.94,313.58 159.48,312.5 160.02,311.4 160.57,310.28 161.11,309.14 161.65,307.97 162.19,306.77 162.73,305.55 163.27,304.3 163.81,303.03 164.35,301.73 164.89,300.4 165.44,299.04 165.98,297.65 166.52,296.23 167.06,294.78 167.6,293.3 168.14,291.79 168.68,290.24 169.22,288.66 169.76,287.05 170.31,285.4 170.85,283.71 171.39,281.99 171.93,280.23 172.47,278.42 173.01,276.58 173.55,274.7 174.09,272.78 174.64,270.82 175.18,268.81 175.72,266.75 176.26,264.65 176.8,262.51 177.34,260.31 177.88,258.07 178.42,255.77 178.96,253.43 179.51,251.03 180.05,248.58 180.59,246.07 181.13,243.51 181.67,240.89 182.21,238.2 182.75,235.46 183.29,232.66 183.83,229.79 184.38,226.86 184.92,223.86 185.46,220.79 186,217.65 186.54,214.44 187.08,211.15 187.62,207.79"/>
</g>
<rect x="59.6" y="217.9" width="196.2" height="155.55" fill="none" stroke="#505050" stroke-width="1.2"/>
<line x1="66.85" y1="373.45" x2="66.85" y2="380.25" stroke="#505050" stroke-width="1.2"/>
<text x="66.85" y="398.05" text-anchor="middle">0.0</text>
<line x1="97.11" y1="373.45" x2="97.11" y2="380.25" stroke="#505050" stroke-width="1.2"/>
<text x="97.11" y="398.05" text-anchor="middle">0.5</text>
<line x1="127.38" y1="373.45" x2="127.38" y2="380.25" stroke="#505050" stroke-width="1.2"/>
<text x="127.38" y="398.05" text-anchor="middle">1.0</text>
<line x1="157.64" y1="373.45" x2="157.64" y2="380.25" stroke="#505050" stroke-width="1.2"/>
<text x="157.64" y="398.05" text-anchor="middle">1.5</text>
<line x1="187.91" y1="373.45" x2="187.91" y2="380.25" stroke="#505050" stroke-width="1.2"/>
<text x="187.91" y="398.05" text-anchor="middle">2.0</text>
<line x1="218.17" y1="373.45" x2="218.17" y2="380.25" stroke="#505050" stroke-width="1.2"/>
<text x="218.17" y="398.05" text-anchor="middle">2.5</text>
<line x1="248.44" y1="373.45" x2="248.44" y2="380.25" stroke="#505050" stroke-width="1.2"/>
<text x="248.44" y="398.05" text-anchor="middle">3.0</text>
<line x1="52.8" y1="368.2" x2="59.6" y2="368.2" stroke="#505050" stroke-width="1.2"/>
<text transform="translate(43.9,368.2) rotate(-90)" x="0" y="0" text-anchor="middle">0</text>
<line x1="52.8" y1="323" x2="59.6" y2="323" stroke="#505050" stroke-width="1.2"/>
<text transform="translate(43.9,323) rotate(-90)" x="0" y="0" text-anchor="middle">5</text>
<line x1="52.8" y1="277.8" x2="59.6" y2="277.8" stroke="#505050" stroke-width="1.2"/>
<text transform="translate(43.9,277.8) rotate(-90)" x="0" y="0" text-anchor="middle">10</text>
<line x1="52.8" y1="232.6" x2="59.6" y2="232.6" stroke="#505050" stroke-width="1.2"/>
<text transform="translate(43.9,232.6) rotate(-90)" x="0" y="0" text-anchor="middle">15</text>
<text transform="translate(17.3,295.68) rotate(-90)" text-anchor="middle">HRF</text>
<text x="157.7" y="424.75" text-anchor="middle">x</text>
<line x1="64.2" y1="229.5" x2="84" y2="229.5" stroke="#E46D81" stroke-width="1.1"/>
<text x="94.1" y="233.3">&#952;=1, &#955;=1</text>
<line x1="64.2" y1="244.45" x2="84" y2="244.45" stroke="#79D769" stroke-width="1.1"/>
<text x="94.1" y="248.25">&#952;=1, &#955;=1.5</text>
<line x1="64.2" y1="259.4" x2="84" y2="259.4" stroke="#43A7EA" stroke-width="1.1"/>
<text x="94.1" y="263.2">&#952;=0.5, &#955;=1</text>
<line x1="64.2" y1="274.35" x2="84" y2="274.35" stroke="#48E6E9" stroke-width="1.1"/>
<text x="94.1" y="278.15">&#952;=0.5, &#955;=1.5</text>
<clipPath id="c3"><rect x="342.8" y="218.2" width="196.2" height="155.3"/></clipPath>
<g clip-path="url(#c3)" fill="none" stroke-width="1.1" stroke-linejoin="round">
<polyline stroke="#E46D81" points="350.09,228.4 350.09,230.08 350.09,231.73 350.09,233.37 350.09,234.98 350.09,236.57 350.09,238.15 350.1,239.7 350.1,241.24 350.1,242.75 350.1,244.25 350.1,245.73 350.1,247.19 350.1,248.63 350.11,250.06 350.11,251.46 350.11,252.85 350.11,254.22 350.11,255.58 350.12,256.91 350.12,258.23 350.12,259.54 350.12,260.83 350.12,262.1 350.13,263.35 350.13,264.59 350.13,265.82 350.13,267.02 350.14,268.22 350.14,269.4 350.14,270.56 350.14,271.71 350.15,272.84 350.15,273.97 350.15,275.07 350.16,276.16 350.16,277.24 350.16,278.31 350.17,279.36 350.17,280.4 350.17,281.42 350.18,282.43 350.18,283.43 350.19,284.42 350.19,285.4 350.2,286.36 350.2,287.31 350.21,288.24 350.21,289.17 350.22,290.08 350.22,290.99 350.23,291.88 350.23,292.76 350.24,293.63 350.24,294.48 350.25,295.33 350.25,296.16 350.26,296.99 350.27,297.8 350.27,298.61 350.28,299.4 350.29,300.18 350.3,300.96 350.3,301.72 350.31,302.48 350.32,303.22 350.33,303.95 350.34,304.68 350.35,305.39 350.36,306.1 350.37,306.8 350.38,307.48 350.39,308.16 350.4,308.83 350.41,309.5 350.42,310.15 350.43,310.79 350.44,311.43 350.45,312.06 350.47,312.68 350.48,313.29 350.49,313.89 350.51,314.48 350.52,315.07 350.54,315.65 350.55,316.22 350.57,316.79 350.58,317.35 350.6,317.89 350.62,318.44 350.64,318.97 350.65,319.5 350.67,320.02 350.69,320.53 350.71,321.04 350.73,321.54 350.76,322.03 350.78,322.52 350.8,323 350.82,323.47 350.85,323.94 350.87,324.4 350.9,324.85 350.93,325.3 350.95,325.74 350.98,326.18 351.01,326.61 351.04,327.03 351.07,327.45 351.1,327.86 351.14,328.27 351.17,328.67 351.21,329.06 351.24,329.45 351.28,329.83 351.32,330.21 351.36,330.58 351.4,330.95 351.44,331.31 351.49,331.67 351.53,332.02 351.58,332.36 351.63,332.7 351.67,333.04 351.73,333.37 351.78,333.7 351.83,334.02 351.89,334.33 351.95,334.64 352.01,334.95 352.07,335.25 352.13,335.55 352.2,335.84 352.26,336.13 352.33,336.41 352.4,336.69 352.48,336.96 352.55,337.23 352.63,337.5 352.71,337.76 352.8,338.01 352.88,338.26 352.97,338.51 353.06,338.75 353.16,338.99 353.26,339.23 353.36,339.46 353.46,339.68 353.57,339.91 353.68,340.12 354.22,341.05 354.76,341.8 355.3,342.42 355.84,342.93 356.38,343.37 356.92,343.74 357.46,344.06 358,344.34 358.55,344.58 359.09,344.78 359.63,344.97 360.17,345.13 360.71,345.27 361.25,345.39 361.79,345.49 362.33,345.59 362.87,345.67 363.41,345.74 363.95,345.8 364.49,345.85 365.03,345.89 365.57,345.92 366.12,345.95 366.66,345.97 367.2,345.98 367.74,345.99 368.28,346 368.82,346 369.36,345.99 369.9,345.98 370.44,345.97 370.98,345.96 371.52,345.94 372.06,345.91 372.6,345.89 373.14,345.86 373.69,345.83 374.23,345.79 374.77,345.76 375.31,345.72 375.85,345.68 376.39,345.64 376.93,345.59 377.47,345.54 378.01,345.49 378.55,345.44 379.09,345.39 379.63,345.34 380.17,345.28 380.71,345.23 381.26,345.17 381.8,345.11 382.34,345.05 382.88,344.99 383.42,344.92 383.96,344.86 384.5,344.79 385.04,344.72 385.58,344.66 386.12,344.59 386.66,344.52 387.2,344.44 387.74,344.37 388.28,344.3 388.83,344.22 389.37,344.15 389.91,344.07 390.45,344 390.99,343.92 391.53,343.84 392.07,343.76 392.61,343.68 393.15,343.6 393.69,343.52 394.23,343.43 394.77,343.35 395.31,343.26 395.85,343.18 396.4,343.09 396.94,343.01 397.48,342.92 398.02,342.83 398.56,342.74 399.1,342.65 399.64,342.56 400.18,342.47 400.72,342.38 401.26,342.29 401.8,342.2 402.34,342.1 402.88,342.01 403.42,341.92 403.97,341.82 404.51,341.73 405.05,341.63 405.59,341.53 406.13,341.44 406.67,341.34 407.21,341.24 407.75,341.14 408.29,341.04 408.83,340.94 409.37,340.84 409.91,340.74 410.45,340.64 410.99,340.53 411.54,340.43 412.08,340.33 412.62,340.22 413.16,340.12 413.7,340.01 414.24,339.91 414.78,339.8 415.32,339.7 415.86,339.59 416.4,339.48 416.94,339.37 417.48,339.26 418.02,339.16 418.56,339.05 419.1,338.94 419.65,338.82 420.19,338.71 420.73,338.6 421.27,338.49 421.81,338.38 422.35,338.26 422.89,338.15 423.43,338.04 423.97,337.92 424.51,337.81 425.05,337.69 425.59,337.57 426.13,337.46 426.67,337.34 427.22,337.22 427.76,337.11 428.3,336.99 428.84,336.87 429.38,336.75 429.92,336.63 430.46,336.51 431,336.39 431.54,336.27 432.08,336.14 432.62,336.02 433.16,335.9 433.7,335.78 434.24,335.65 434.79,335.53 435.33,335.4 435.87,335.28 436.41,335.15 436.95,335.03 437.49,334.9 438.03,334.77 438.57,334.64 439.11,334.52 439.65,334.39 440.19,334.26 440.73,334.13 441.27,334 441.81,333.87 442.36,333.74 442.9,333.61 443.44,333.48 443.98,333.34 444.52,333.21 445.06,333.08 445.6,332.94 446.14,332.81 446.68,332.67 447.22,332.54 447.76,332.4 448.3,332.27 448.84,332.13 449.38,331.99 449.93,331.86 450.47,331.72 451.01,331.58 451.55,331.44 452.09,331.3 452.63,331.16 453.17,331.02 453.71,330.88 454.25,330.74 454.79,330.6 455.33,330.45 455.87,330.31 456.41,330.17 456.95,330.02 457.5,329.88 458.04,329.73 458.58,329.59 459.12,329.44 459.66,329.3 460.2,329.15 460.74,329 461.28,328.85 461.82,328.71 462.36,328.56 462.9,328.41 463.44,328.26 463.98,328.11 464.52,327.96 465.07,327.81 465.61,327.65 466.15,327.5 466.69,327.35 467.23,327.2 467.77,327.04 468.31,326.89 468.85,326.73 469.39,326.58 469.93,326.42 470.47,326.27 471.01,326.11 471.55,325.95 472.09,325.79 472.64,325.64 473.18,325.48 473.72,325.32 474.26,325.16 474.8,325 475.34,324.84 475.88,324.68 476.42,324.51 476.96,324.35 477.5,324.19 478.04,324.03 478.58,323.86 479.12,323.7 479.66,323.53 480.21,323.37 480.75,323.2 481.29,323.03 481.83,322.87 482.37,322.7 482.91,322.53 483.45,322.36 483.99,322.19 484.53,322.02 485.07,321.85 485.61,321.68 486.15,321.51 486.69,321.34 487.23,321.17 487.78,320.99 488.32,320.82 488.86,320.65 489.4,320.47 489.94,320.3 490.48,320.12 491.02,319.94 491.56,319.77 492.1,319.59 492.64,319.41 493.18,319.23 493.72,319.06 494.26,318.88 494.8,318.7 495.35,318.51 495.89,318.33 496.43,318.15 496.97,317.97 497.51,317.79 498.05,317.6 498.59,317.42 499.13,317.24 499.67,317.05 500.21,316.86 500.75,316.68 501.29,316.49 501.83,316.3 502.37,316.12 502.92,315.93 503.46,315.74 504,315.55 504.54,315.36 505.08,315.17 505.62,314.98 506.16,314.78 506.7,314.59 507.24,314.4 507.78,314.21 508.32,314.01 508.86,313.82 509.4,313.62 509.94,313.43 510.49,313.23 511.03,313.03 511.57,312.83 512.11,312.64 512.65,312.44 513.19,312.24 513.73,312.04 514.27,311.84 514.81,311.63 515.35,311.43 515.89,311.23 516.43,311.03 516.97,310.82 517.51,310.62 518.06,310.41 518.6,310.21 519.14,310 519.68,309.79 520.22,309.59 520.76,309.38 521.3,309.17 521.84,308.96 522.38,308.75 522.92,308.54 523.46,308.33 524,308.12 524.54,307.91 525.08,307.69 525.62,307.48 526.17,307.26 526.71,307.05 527.25,306.83 527.79,306.62 528.33,306.4 528.87,306.18 529.41,305.97 529.95,305.75 530.49,305.53 531.03,305.31 531.57,305.09 532.11,304.87 532.65,304.64 533.19,304.42 533.74,304.2 534.28,303.97 534.82,303.75 535.36,303.52 535.9,303.3 536.44,303.07 536.98,302.85 537.52,302.62 538.06,302.39 538.6,302.16 539.14,301.93 539.68,301.7 540.22,301.47 540.76,301.24 541.31,301 541.85,300.77 542.39,300.54"/>
<polyline stroke="#79D769" points="350.09,287.08 350.09,287.81 350.09,288.54 350.09,289.26 350.09,289.97 350.09,290.68 350.09,291.38 350.1,292.07 350.1,292.76 350.1,293.44 350.1,294.12 350.1,294.78 350.1,295.44 350.1,296.1 350.11,296.75 350.11,297.39 350.11,298.03 350.11,298.66 350.11,299.28 350.12,299.9 350.12,300.51 350.12,301.12 350.12,301.72 350.12,302.31 350.13,302.9 350.13,303.48 350.13,304.06 350.13,304.63 350.14,305.2 350.14,305.76 350.14,306.32 350.14,306.87 350.15,307.41 350.15,307.95 350.15,308.49 350.16,309.02 350.16,309.54 350.16,310.06 350.17,310.57 350.17,311.08 350.17,311.59 350.18,312.09 350.18,312.58 350.19,313.07 350.19,313.55 350.2,314.03 350.2,314.51 350.21,314.98 350.21,315.44 350.22,315.9 350.22,316.36 350.23,316.81 350.23,317.26 350.24,317.7 350.24,318.14 350.25,318.57 350.25,319 350.26,319.43 350.27,319.85 350.27,320.27 350.28,320.68 350.29,321.09 350.3,321.49 350.3,321.89 350.31,322.29 350.32,322.68 350.33,323.07 350.34,323.45 350.35,323.83 350.36,324.2 350.37,324.58 350.38,324.94 350.39,325.31 350.4,325.67 350.41,326.03 350.42,326.38 350.43,326.73 350.44,327.07 350.45,327.41 350.47,327.75 350.48,328.09 350.49,328.42 350.51,328.75 350.52,329.07 350.54,329.39 350.55,329.71 350.57,330.02 350.58,330.33 350.6,330.63 350.62,330.94 350.64,331.24 350.65,331.53 350.67,331.83 350.69,332.12 350.71,332.4 350.73,332.68 350.76,332.96 350.78,333.24 350.8,333.51 350.82,333.78 350.85,334.05 350.87,334.31 350.9,334.57 350.93,334.83 350.95,335.09 350.98,335.34 351.01,335.59 351.04,335.83 351.07,336.07 351.1,336.31 351.14,336.55 351.17,336.78 351.21,337.01 351.24,337.24 351.28,337.46 351.32,337.68 351.36,337.9 351.4,338.11 351.44,338.33 351.49,338.54 351.53,338.74 351.58,338.95 351.63,339.15 351.67,339.34 351.73,339.54 351.78,339.73 351.83,339.92 351.89,340.11 351.95,340.29 352.01,340.47 352.07,340.65 352.13,340.82 352.2,340.99 352.26,341.16 352.33,341.33 352.4,341.49 352.48,341.65 352.55,341.81 352.63,341.97 352.71,342.12 352.8,342.27 352.88,342.42 352.97,342.56 353.06,342.7 353.16,342.84 353.26,342.97 353.36,343.11 353.46,343.24 353.57,343.36 353.68,343.49 354.22,344.01 354.76,344.41 355.3,344.73 355.84,344.99 356.38,345.2 356.92,345.36 357.46,345.49 358,345.59 358.55,345.67 359.09,345.73 359.63,345.77 360.17,345.79 360.71,345.8 361.25,345.8 361.79,345.79 362.33,345.76 362.87,345.73 363.41,345.69 363.95,345.64 364.49,345.59 365.03,345.53 365.57,345.47 366.12,345.39 366.66,345.32 367.2,345.24 367.74,345.15 368.28,345.07 368.82,344.97 369.36,344.88 369.9,344.78 370.44,344.67 370.98,344.57 371.52,344.46 372.06,344.35 372.6,344.23 373.14,344.12 373.69,344 374.23,343.88 374.77,343.75 375.31,343.62 375.85,343.5 376.39,343.36 376.93,343.23 377.47,343.1 378.01,342.96 378.55,342.82 379.09,342.68 379.63,342.54 380.17,342.39 380.71,342.25 381.26,342.1 381.8,341.95 382.34,341.8 382.88,341.64 383.42,341.49 383.96,341.33 384.5,341.18 385.04,341.02 385.58,340.85 386.12,340.69 386.66,340.53 387.2,340.36 387.74,340.2 388.28,340.03 388.83,339.86 389.37,339.68 389.91,339.51 390.45,339.34 390.99,339.16 391.53,338.98 392.07,338.8 392.61,338.62 393.15,338.44 393.69,338.26 394.23,338.07 394.77,337.89 395.31,337.7 395.85,337.51 396.4,337.32 396.94,337.13 397.48,336.94 398.02,336.74 398.56,336.55 399.1,336.35 399.64,336.15 400.18,335.95 400.72,335.75 401.26,335.55 401.8,335.34 402.34,335.14 402.88,334.93 403.42,334.72 403.97,334.51 404.51,334.3 405.05,334.09 405.59,333.88 406.13,333.66 406.67,333.44 407.21,333.23 407.75,333.01 408.29,332.79 408.83,332.56 409.37,332.34 409.91,332.12 410.45,331.89 410.99,331.66 411.54,331.43 412.08,331.2 412.62,330.97 413.16,330.73 413.7,330.5 414.24,330.26 414.78,330.03 415.32,329.79 415.86,329.54 416.4,329.3 416.94,329.06 417.48,328.81 418.02,328.57 418.56,328.32 419.1,328.07 419.65,327.82 420.19,327.56 420.73,327.31 421.27,327.05 421.81,326.8 422.35,326.54 422.89,326.28 423.43,326.02 423.97,325.75 424.51,325.49 425.05,325.22 425.59,324.95 426.13,324.68 426.67,324.41 427.22,324.14 427.76,323.87 428.3,323.59 428.84,323.31 429.38,323.03 429.92,322.75 430.46,322.47 431,322.19 431.54,321.9 432.08,321.61 432.62,321.32 433.16,321.03 433.7,320.74 434.24,320.45 434.79,320.15 435.33,319.86 435.87,319.56 436.41,319.26 436.95,318.95 437.49,318.65 438.03,318.34 438.57,318.04 439.11,317.73 439.65,317.42 440.19,317.11 440.73,316.79 441.27,316.47 441.81,316.16 442.36,315.84 442.9,315.52 443.44,315.19 443.98,314.87 444.52,314.54 445.06,314.21 445.6,313.88 446.14,313.55 446.68,313.22 447.22,312.88 447.76,312.54 448.3,312.2 448.84,311.86 449.38,311.52 449.93,311.17 450.47,310.83 451.01,310.48 451.55,310.13 452.09,309.77 452.63,309.42 453.17,309.06 453.71,308.71 454.25,308.34 454.79,307.98 455.33,307.62 455.87,307.25 456.41,306.88 456.95,306.51 457.5,306.14 458.04,305.77 458.58,305.39 459.12,305.01 459.66,304.63 460.2,304.25 460.74,303.86 461.28,303.48 461.82,303.09 462.36,302.7 462.9,302.3 463.44,301.91 463.98,301.51 464.52,301.11 465.07,300.71 465.61,300.31 466.15,299.9 466.69,299.49 467.23,299.08 467.77,298.67 468.31,298.26 468.85,297.84 469.39,297.42 469.93,297 470.47,296.58 471.01,296.15 471.55,295.72 472.09,295.29 472.64,294.86 473.18,294.43 473.72,293.99 474.26,293.55 474.8,293.11 475.34,292.66 475.88,292.22 476.42,291.77 476.96,291.32 477.5,290.87 478.04,290.41 478.58,289.95 479.12,289.49 479.66,289.03 480.21,288.56 480.75,288.09 481.29,287.62 481.83,287.15 482.37,286.68 482.91,286.2 483.45,285.72 483.99,285.23 484.53,284.75 485.07,284.26 485.61,283.77 486.15,283.28 486.69,282.78 487.23,282.28 487.78,281.78 488.32,281.28 488.86,280.77 489.4,280.27 489.94,279.75 490.48,279.24 491.02,278.72 491.56,278.2 492.1,277.68 492.64,277.16 493.18,276.63 493.72,276.1 494.26,275.57 494.8,275.03 495.35,274.49 495.89,273.95 496.43,273.41 496.97,272.86 497.51,272.31 498.05,271.76 498.59,271.21 499.13,270.65 499.67,270.09 500.21,269.52 500.75,268.96 501.29,268.39 501.83,267.81 502.37,267.24 502.92,266.66 503.46,266.08 504,265.49 504.54,264.91 505.08,264.32 505.62,263.72 506.16,263.13 506.7,262.53 507.24,261.92 507.78,261.32 508.32,260.71 508.86,260.1 509.4,259.48 509.94,258.87 510.49,258.24 511.03,257.62 511.57,256.99 512.11,256.36 512.65,255.73 513.19,255.09 513.73,254.45 514.27,253.81 514.81,253.16 515.35,252.51 515.89,251.86 516.43,251.2 516.97,250.54 517.51,249.88 518.06,249.21 518.6,248.54 519.14,247.86 519.68,247.19 520.22,246.51 520.76,245.82 521.3,245.14 521.84,244.45 522.38,243.75 522.92,243.05 523.46,242.35 524,241.65 524.54,240.94 525.08,240.23 525.62,239.51 526.17,238.79 526.71,238.07 527.25,237.34 527.79,236.61 528.33,235.88 528.87,235.14 529.41,234.4 529.95,233.66 530.49,232.91 531.03,232.16 531.57,231.4 532.11,230.64 532.65,229.88 533.19,229.11 533.74,228.34 534.28,227.57 534.82,226.79 535.36,226 535.9,225.22 536.44,224.43 536.98,223.63 537.52,222.83 538.06,222.03 538.6,221.23 539.14,220.42 539.68,219.6 540.22,218.78 540.76,217.96 541.31,217.13 541.85,216.3 542.39,215.47"/>
<polyline stroke="#43A7EA" points="350.09,298.27 350.09,299.11 350.09,299.94 350.09,300.76 350.09,301.57 350.09,302.36 350.09,303.15 350.1,303.93 350.1,304.69 350.1,305.45 350.1,306.2 350.1,306.94 350.1,307.67 350.1,308.39 350.11,309.1 350.11,309.81 350.11,310.5 350.11,311.19 350.11,311.86 350.12,312.53 350.12,313.19 350.12,313.84 350.12,314.49 350.12,315.12 350.13,315.75 350.13,316.37 350.13,316.98 350.13,317.59 350.14,318.18 350.14,318.77 350.14,319.36 350.14,319.93 350.15,320.5 350.15,321.06 350.15,321.61 350.16,322.16 350.16,322.7 350.16,323.23 350.17,323.75 350.17,324.27 350.17,324.79 350.18,325.29 350.18,325.79 350.19,326.29 350.19,326.77 350.2,327.25 350.2,327.73 350.21,328.2 350.21,328.66 350.22,329.12 350.22,329.57 350.23,330.01 350.23,330.45 350.24,330.89 350.24,331.32 350.25,331.74 350.25,332.16 350.26,332.57 350.27,332.98 350.27,333.38 350.28,333.78 350.29,334.17 350.3,334.55 350.3,334.94 350.31,335.31 350.32,335.68 350.33,336.05 350.34,336.41 350.35,336.77 350.36,337.12 350.37,337.47 350.38,337.82 350.39,338.16 350.4,338.49 350.41,338.82 350.42,339.15 350.43,339.47 350.44,339.79 350.45,340.1 350.47,340.41 350.48,340.72 350.49,341.02 350.51,341.32 350.52,341.61 350.54,341.9 350.55,342.19 350.57,342.47 350.58,342.75 350.6,343.02 350.62,343.29 350.64,343.56 350.65,343.82 350.67,344.08 350.69,344.34 350.71,344.6 350.73,344.85 350.76,345.09 350.78,345.33 350.8,345.57 350.82,345.81 350.85,346.04 350.87,346.27 350.9,346.5 350.93,346.73 350.95,346.95 350.98,347.16 351.01,347.38 351.04,347.59 351.07,347.8 351.1,348.01 351.14,348.21 351.17,348.41 351.21,348.61 351.24,348.8 351.28,348.99 351.32,349.18 351.36,349.37 351.4,349.55 351.44,349.73 351.49,349.91 351.53,350.08 351.58,350.26 351.63,350.43 351.67,350.6 351.73,350.76 351.78,350.92 351.83,351.08 351.89,351.24 351.95,351.4 352.01,351.55 352.07,351.7 352.13,351.85 352.2,351.99 352.26,352.14 352.33,352.28 352.4,352.42 352.48,352.56 352.55,352.69 352.63,352.82 352.71,352.95 352.8,353.08 352.88,353.21 352.97,353.33 353.06,353.45 353.16,353.57 353.26,353.69 353.36,353.8 353.46,353.92 353.57,354.03 353.68,354.14 354.22,354.6 354.76,354.98 355.3,355.28 355.84,355.54 356.38,355.76 356.92,355.95 357.46,356.11 358,356.24 358.55,356.36 359.09,356.47 359.63,356.56 360.17,356.64 360.71,356.71 361.25,356.77 361.79,356.82 362.33,356.87 362.87,356.91 363.41,356.94 363.95,356.97 364.49,357 365.03,357.02 365.57,357.04 366.12,357.05 366.66,357.06 367.2,357.07 367.74,357.07 368.28,357.07 368.82,357.07 369.36,357.07 369.9,357.07 370.44,357.06 370.98,357.05 371.52,357.04 372.06,357.03 372.6,357.02 373.14,357 373.69,356.99 374.23,356.97 374.77,356.95 375.31,356.93 375.85,356.91 376.39,356.89 376.93,356.87 377.47,356.85 378.01,356.82 378.55,356.8 379.09,356.77 379.63,356.74 380.17,356.72 380.71,356.69 381.26,356.66 381.8,356.63 382.34,356.6 382.88,356.57 383.42,356.54 383.96,356.5 384.5,356.47 385.04,356.44 385.58,356.4 386.12,356.37 386.66,356.33 387.2,356.3 387.74,356.26 388.28,356.22 388.83,356.19 389.37,356.15 389.91,356.11 390.45,356.07 390.99,356.03 391.53,355.99 392.07,355.95 392.61,355.91 393.15,355.87 393.69,355.83 394.23,355.79 394.77,355.75 395.31,355.71 395.85,355.66 396.4,355.62 396.94,355.58 397.48,355.53 398.02,355.49 398.56,355.45 399.1,355.4 399.64,355.36 400.18,355.31 400.72,355.27 401.26,355.22 401.8,355.17 402.34,355.13 402.88,355.08 403.42,355.03 403.97,354.99 404.51,354.94 405.05,354.89 405.59,354.84 406.13,354.79 406.67,354.74 407.21,354.69 407.75,354.64 408.29,354.6 408.83,354.55 409.37,354.49 409.91,354.44 410.45,354.39 410.99,354.34 411.54,354.29 412.08,354.24 412.62,354.19 413.16,354.13 413.7,354.08 414.24,354.03 414.78,353.98 415.32,353.92 415.86,353.87 416.4,353.82 416.94,353.76 417.48,353.71 418.02,353.65 418.56,353.6 419.1,353.54 419.65,353.49 420.19,353.43 420.73,353.38 421.27,353.32 421.81,353.26 422.35,353.21 422.89,353.15 423.43,353.09 423.97,353.04 424.51,352.98 425.05,352.92 425.59,352.86 426.13,352.8 426.67,352.75 427.22,352.69 427.76,352.63 428.3,352.57 428.84,352.51 429.38,352.45 429.92,352.39 430.46,352.33 431,352.27 431.54,352.21 432.08,352.15 432.62,352.09 433.16,352.02 433.7,351.96 434.24,351.9 434.79,351.84 435.33,351.78 435.87,351.71 436.41,351.65 436.95,351.59 437.49,351.52 438.03,351.46 438.57,351.4 439.11,351.33 439.65,351.27 440.19,351.2 440.73,351.14 441.27,351.07 441.81,351.01 442.36,350.94 442.9,350.88 443.44,350.81 443.98,350.75 444.52,350.68 445.06,350.61 445.6,350.55 446.14,350.48 446.68,350.41 447.22,350.34 447.76,350.28 448.3,350.21 448.84,350.14 449.38,350.07 449.93,350 450.47,349.93 451.01,349.86 451.55,349.8 452.09,349.73 452.63,349.66 453.17,349.59 453.71,349.51 454.25,349.44 454.79,349.37 455.33,349.3 455.87,349.23 456.41,349.16 456.95,349.09 457.5,349.01 458.04,348.94 458.58,348.87 459.12,348.8 459.66,348.72 460.2,348.65 460.74,348.58 461.28,348.5 461.82,348.43 462.36,348.35 462.9,348.28 463.44,348.2 463.98,348.13 464.52,348.05 465.07,347.98 465.61,347.9 466.15,347.83 466.69,347.75 467.23,347.67 467.77,347.6 468.31,347.52 468.85,347.44 469.39,347.36 469.93,347.29 470.47,347.21 471.01,347.13 471.55,347.05 472.09,346.97 472.64,346.89 473.18,346.81 473.72,346.73 474.26,346.65 474.8,346.57 475.34,346.49 475.88,346.41 476.42,346.33 476.96,346.25 477.5,346.17 478.04,346.09 478.58,346.01 479.12,345.92 479.66,345.84 480.21,345.76 480.75,345.68 481.29,345.59 481.83,345.51 482.37,345.42 482.91,345.34 483.45,345.26 483.99,345.17 484.53,345.09 485.07,345 485.61,344.92 486.15,344.83 486.69,344.74 487.23,344.66 487.78,344.57 488.32,344.48 488.86,344.4 489.4,344.31 489.94,344.22 490.48,344.14 491.02,344.05 491.56,343.96 492.1,343.87 492.64,343.78 493.18,343.69 493.72,343.6 494.26,343.51 494.8,343.42 495.35,343.33 495.89,343.24 496.43,343.15 496.97,343.06 497.51,342.97 498.05,342.88 498.59,342.78 499.13,342.69 499.67,342.6 500.21,342.51 500.75,342.41 501.29,342.32 501.83,342.23 502.37,342.13 502.92,342.04 503.46,341.94 504,341.85 504.54,341.75 505.08,341.66 505.62,341.56 506.16,341.47 506.7,341.37 507.24,341.27 507.78,341.18 508.32,341.08 508.86,340.98 509.4,340.89 509.94,340.79 510.49,340.69 511.03,340.59 511.57,340.49 512.11,340.39 512.65,340.29 513.19,340.19 513.73,340.09 514.27,339.99 514.81,339.89 515.35,339.79 515.89,339.69 516.43,339.59 516.97,339.49 517.51,339.38 518.06,339.28 518.6,339.18 519.14,339.08 519.68,338.97 520.22,338.87 520.76,338.76 521.3,338.66 521.84,338.56 522.38,338.45 522.92,338.35 523.46,338.24 524,338.13 524.54,338.03 525.08,337.92 525.62,337.81 526.17,337.71 526.71,337.6 527.25,337.49 527.79,337.38 528.33,337.28 528.87,337.17 529.41,337.06 529.95,336.95 530.49,336.84 531.03,336.73 531.57,336.62 532.11,336.51 532.65,336.4 533.19,336.29 533.74,336.17 534.28,336.06 534.82,335.95 535.36,335.84 535.9,335.72 536.44,335.61 536.98,335.5 537.52,335.38 538.06,335.27 538.6,335.15 539.14,335.04 539.68,334.92 540.22,334.81 540.76,334.69 541.31,334.58 541.85,334.46 542.39,334.34"/>
<polyline stroke="#48E6E9" points="350.09,327.61 350.09,327.98 350.09,328.35 350.09,328.71 350.09,329.06 350.09,329.42 350.09,329.77 350.1,330.11 350.1,330.46 350.1,330.8 350.1,331.13 350.1,331.47 350.1,331.8 350.1,332.12 350.11,332.45 350.11,332.77 350.11,333.09 350.11,333.4 350.11,333.72 350.12,334.02 350.12,334.33 350.12,334.63 350.12,334.93 350.12,335.23 350.13,335.53 350.13,335.82 350.13,336.11 350.13,336.39 350.14,336.68 350.14,336.96 350.14,337.23 350.14,337.51 350.15,337.78 350.15,338.05 350.15,338.32 350.16,338.58 350.16,338.85 350.16,339.1 350.17,339.36 350.17,339.62 350.17,339.87 350.18,340.12 350.18,340.36 350.19,340.61 350.19,340.85 350.2,341.09 350.2,341.33 350.21,341.56 350.21,341.8 350.22,342.03 350.22,342.25 350.23,342.48 350.23,342.7 350.24,342.93 350.24,343.14 350.25,343.36 350.25,343.58 350.26,343.79 350.27,344 350.27,344.21 350.28,344.41 350.29,344.62 350.3,344.82 350.3,345.02 350.31,345.22 350.32,345.41 350.33,345.61 350.34,345.8 350.35,345.99 350.36,346.18 350.37,346.36 350.38,346.55 350.39,346.73 350.4,346.91 350.41,347.09 350.42,347.26 350.43,347.44 350.44,347.61 350.45,347.78 350.47,347.95 350.48,348.12 350.49,348.28 350.51,348.45 350.52,348.61 350.54,348.77 350.55,348.93 350.57,349.08 350.58,349.24 350.6,349.39 350.62,349.54 350.64,349.69 350.65,349.84 350.67,349.99 350.69,350.13 350.71,350.28 350.73,350.42 350.76,350.56 350.78,350.7 350.8,350.83 350.82,350.97 350.85,351.1 350.87,351.23 350.9,351.36 350.93,351.49 350.95,351.62 350.98,351.74 351.01,351.87 351.04,351.99 351.07,352.11 351.1,352.23 351.14,352.35 351.17,352.46 351.21,352.58 351.24,352.69 351.28,352.81 351.32,352.92 351.36,353.02 351.4,353.13 351.44,353.24 351.49,353.34 351.53,353.45 351.58,353.55 351.63,353.65 351.67,353.75 351.73,353.84 351.78,353.94 351.83,354.03 351.89,354.13 351.95,354.22 352.01,354.31 352.07,354.4 352.13,354.49 352.2,354.57 352.26,354.66 352.33,354.74 352.4,354.82 352.48,354.9 352.55,354.98 352.63,355.06 352.71,355.13 352.8,355.21 352.88,355.28 352.97,355.35 353.06,355.43 353.16,355.49 353.26,355.56 353.36,355.63 353.46,355.69 353.57,355.76 353.68,355.82 354.22,356.08 354.76,356.28 355.3,356.44 355.84,356.57 356.38,356.67 356.92,356.76 357.46,356.82 358,356.87 358.55,356.91 359.09,356.94 359.63,356.96 360.17,356.97 360.71,356.98 361.25,356.97 361.79,356.97 362.33,356.96 362.87,356.94 363.41,356.92 363.95,356.9 364.49,356.87 365.03,356.84 365.57,356.81 366.12,356.77 366.66,356.73 367.2,356.69 367.74,356.65 368.28,356.61 368.82,356.56 369.36,356.51 369.9,356.46 370.44,356.41 370.98,356.36 371.52,356.3 372.06,356.25 372.6,356.19 373.14,356.13 373.69,356.07 374.23,356.01 374.77,355.95 375.31,355.89 375.85,355.82 376.39,355.76 376.93,355.69 377.47,355.62 378.01,355.55 378.55,355.49 379.09,355.42 379.63,355.34 380.17,355.27 380.71,355.2 381.26,355.12 381.8,355.05 382.34,354.97 382.88,354.9 383.42,354.82 383.96,354.74 384.5,354.66 385.04,354.58 385.58,354.5 386.12,354.42 386.66,354.34 387.2,354.26 387.74,354.17 388.28,354.09 388.83,354 389.37,353.92 389.91,353.83 390.45,353.74 390.99,353.66 391.53,353.57 392.07,353.48 392.61,353.39 393.15,353.3 393.69,353.2 394.23,353.11 394.77,353.02 395.31,352.93 395.85,352.83 396.4,352.74 396.94,352.64 397.48,352.54 398.02,352.45 398.56,352.35 399.1,352.25 399.64,352.15 400.18,352.05 400.72,351.95 401.26,351.85 401.8,351.75 402.34,351.64 402.88,351.54 403.42,351.44 403.97,351.33 404.51,351.23 405.05,351.12 405.59,351.01 406.13,350.91 406.67,350.8 407.21,350.69 407.75,350.58 408.29,350.47 408.83,350.36 409.37,350.25 409.91,350.13 410.45,350.02 410.99,349.91 411.54,349.79 412.08,349.68 412.62,349.56 413.16,349.44 413.7,349.32 414.24,349.21 414.78,349.09 415.32,348.97 415.86,348.85 416.4,348.73 416.94,348.6 417.48,348.48 418.02,348.36 418.56,348.23 419.1,348.11 419.65,347.98 420.19,347.86 420.73,347.73 421.27,347.6 421.81,347.47 422.35,347.34 422.89,347.21 423.43,347.08 423.97,346.95 424.51,346.82 425.05,346.69 425.59,346.55 426.13,346.42 426.67,346.28 427.22,346.14 427.76,346.01 428.3,345.87 428.84,345.73 429.38,345.59 429.92,345.45 430.46,345.31 431,345.17 431.54,345.03 432.08,344.88 432.62,344.74 433.16,344.59 433.7,344.45 434.24,344.3 434.79,344.15 435.33,344 435.87,343.85 436.41,343.7 436.95,343.55 437.49,343.4 438.03,343.25 438.57,343.09 439.11,342.94 439.65,342.78 440.19,342.63 440.73,342.47 441.27,342.31 441.81,342.15 442.36,341.99 442.9,341.83 443.44,341.67 443.98,341.51 444.52,341.35 445.06,341.18 445.6,341.02 446.14,340.85 446.68,340.68 447.22,340.52 447.76,340.35 448.3,340.18 448.84,340.01 449.38,339.83 449.93,339.66 450.47,339.49 451.01,339.31 451.55,339.14 452.09,338.96 452.63,338.79 453.17,338.61 453.71,338.43 454.25,338.25 454.79,338.07 455.33,337.88 455.87,337.7 456.41,337.52 456.95,337.33 457.5,337.15 458.04,336.96 458.58,336.77 459.12,336.58 459.66,336.39 460.2,336.2 460.74,336.01 461.28,335.81 461.82,335.62 462.36,335.42 462.9,335.23 463.44,335.03 463.98,334.83 464.52,334.63 465.07,334.43 465.61,334.23 466.15,334.03 466.69,333.82 467.23,333.62 467.77,333.41 468.31,333.2 468.85,333 469.39,332.79 469.93,332.58 470.47,332.36 471.01,332.15 471.55,331.94 472.09,331.72 472.64,331.51 473.18,331.29 473.72,331.07 474.26,330.85 474.8,330.63 475.34,330.41 475.88,330.18 476.42,329.96 476.96,329.73 477.5,329.51 478.04,329.28 478.58,329.05 479.12,328.82 479.66,328.59 480.21,328.36 480.75,328.12 481.29,327.89 481.83,327.65 482.37,327.41 482.91,327.17 483.45,326.93 483.99,326.69 484.53,326.45 485.07,326.21 485.61,325.96 486.15,325.71 486.69,325.47 487.23,325.22 487.78,324.97 488.32,324.72 488.86,324.46 489.4,324.21 489.94,323.95 490.48,323.7 491.02,323.44 491.56,323.18 492.1,322.92 492.64,322.65 493.18,322.39 493.72,322.13 494.26,321.86 494.8,321.59 495.35,321.32 495.89,321.05 496.43,320.78 496.97,320.51 497.51,320.23 498.05,319.96 498.59,319.68 499.13,319.4 499.67,319.12 500.21,318.84 500.75,318.55 501.29,318.27 501.83,317.98 502.37,317.69 502.92,317.4 503.46,317.11 504,316.82 504.54,316.53 505.08,316.23 505.62,315.94 506.16,315.64 506.7,315.34 507.24,315.04 507.78,314.73 508.32,314.43 508.86,314.12 509.4,313.82 509.94,313.51 510.49,313.2 511.03,312.88 511.57,312.57 512.11,312.26 512.65,311.94 513.19,311.62 513.73,311.3 514.27,310.98 514.81,310.65 515.35,310.33 515.89,310 516.43,309.67 516.97,309.34 517.51,309.01 518.06,308.68 518.6,308.34 519.14,308.01 519.68,307.67 520.22,307.33 520.76,306.99 521.3,306.64 521.84,306.3 522.38,305.95 522.92,305.6 523.46,305.25 524,304.9 524.54,304.54 525.08,304.19 525.62,303.83 526.17,303.47 526.71,303.11 527.25,302.75 527.79,302.38 528.33,302.02 528.87,301.65 529.41,301.28 529.95,300.9 530.49,300.53 531.03,300.15 531.57,299.78 532.11,299.4 532.65,299.01 533.19,298.63 533.74,298.25 534.28,297.86 534.82,297.47 535.36,297.08 535.9,296.68 536.44,296.29 536.98,295.89 537.52,295.49 538.06,295.09 538.6,294.69 539.14,294.28 539.68,293.88 540.22,293.47 540.76,293.06 541.31,292.64 541.85,292.23 542.39,291.81"/>
</g>
<rect x="342.8" y="218.2" width="196.2" height="155.3" fill="none" stroke="#505050" stroke-width="1.2"/>
<line x1="350.05" y1="373.5" x2="350.05" y2="380.3" stroke="#505050" stroke-width="1.2"/>
<text x="350.05" y="398.1" text-anchor="middle">0</text>
<line x1="386.34" y1="373.5" x2="386.34" y2="380.3" stroke="#505050" stroke-width="1.2"/>
<text x="386.34" y="398.1" text-anchor="middle">1</text>
<line x1="422.63" y1="373.5" x2="422.63" y2="380.3" stroke="#505050" stroke-width="1.2"/>
<text x="422.63" y="398.1" text-anchor="middle">2</text>
<line x1="458.92" y1="373.5" x2="458.92" y2="380.3" stroke="#505050" stroke-width="1.2"/>
<text x="458.92" y="398.1" text-anchor="middle">3</text>
<line x1="495.21" y1="373.5" x2="495.21" y2="380.3" stroke="#505050" stroke-width="1.2"/>
<text x="495.21" y="398.1" text-anchor="middle">4</text>
<line x1="531.5" y1="373.5" x2="531.5" y2="380.3" stroke="#505050" stroke-width="1.2"/>
<text x="531.5" y="398.1" text-anchor="middle">5</text>
<line x1="336" y1="368.15" x2="342.8" y2="368.15" stroke="#505050" stroke-width="1.2"/>
<text transform="translate(327.1,368.15) rotate(-90)" x="0" y="0" text-anchor="middle">0</text>
<line x1="336" y1="339.22" x2="342.8" y2="339.22" stroke="#505050" stroke-width="1.2"/>
<text transform="translate(327.1,339.22) rotate(-90)" x="0" y="0" text-anchor="middle">2</text>
<line x1="336" y1="310.29" x2="342.8" y2="310.29" stroke="#505050" stroke-width="1.2"/>
<text transform="translate(327.1,310.29) rotate(-90)" x="0" y="0" text-anchor="middle">4</text>
<line x1="336" y1="281.36" x2="342.8" y2="281.36" stroke="#505050" stroke-width="1.2"/>
<text transform="translate(327.1,281.36) rotate(-90)" x="0" y="0" text-anchor="middle">6</text>
<line x1="336" y1="252.43" x2="342.8" y2="252.43" stroke="#505050" stroke-width="1.2"/>
<text transform="translate(327.1,252.43) rotate(-90)" x="0" y="0" text-anchor="middle">8</text>
<line x1="336" y1="223.5" x2="342.8" y2="223.5" stroke="#505050" stroke-width="1.2"/>
<text transform="translate(327.1,223.5) rotate(-90)" x="0" y="0" text-anchor="middle">10</text>
<text transform="translate(300.5,295.85) rotate(-90)" text-anchor="middle">HRF</text>
<text x="440.9" y="424.8" text-anchor="middle">x</text>
<line x1="374.1" y1="238.5" x2="393.8" y2="238.5" stroke="#E46D81" stroke-width="1.1"/>
<text x="403.3" y="242.3">&#952;=1, &#955;=0.6</text>
<line x1="374.1" y1="253.5" x2="393.8" y2="253.5" stroke="#79D769" stroke-width="1.1"/>
<text x="403.3" y="257.3">&#952;=1, &#955;=0.7</text>
<line x1="374.1" y1="268.5" x2="393.8" y2="268.5" stroke="#43A7EA" stroke-width="1.1"/>
<text x="403.3" y="272.3">&#952;=0.5, &#955;=0.6</text>
<line x1="374.1" y1="283.5" x2="393.8" y2="283.5" stroke="#48E6E9" stroke-width="1.1"/>
<text x="403.3" y="287.3">&#952;=0.5, &#955;=0.7</text>
</svg>
</body></html>
